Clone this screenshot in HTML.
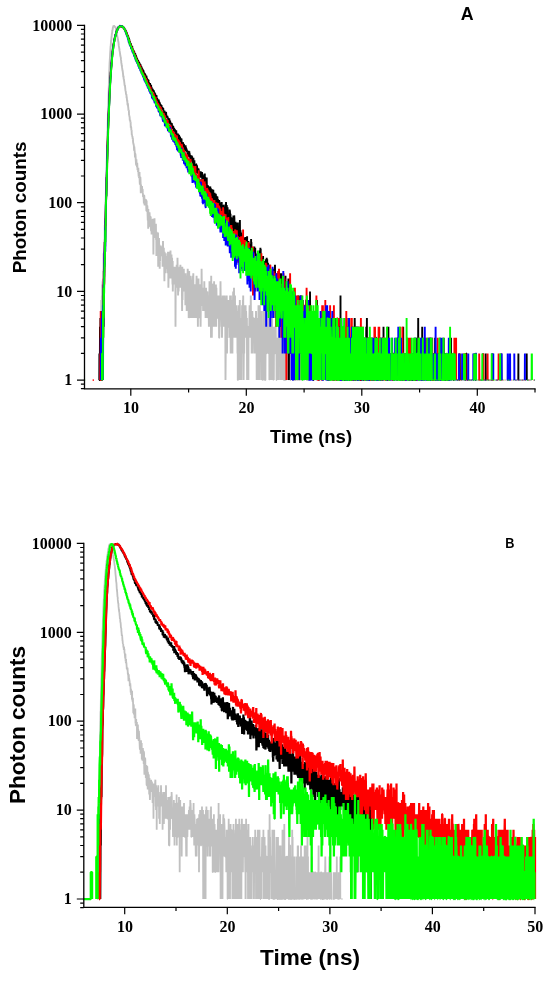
<!DOCTYPE html>
<html lang="en"><head><meta charset="utf-8"><title>Photon counts vs Time</title>
<style>html,body{margin:0;padding:0;background:#fff}svg{display:block}</style></head>
<body>
<svg width="550" height="981" viewBox="0 0 550 981">
<rect width="550" height="981" fill="#fff"/>
<g fill="none" stroke-width="19" stroke-linejoin="bevel" transform="scale(0.1)">
<path stroke="#c0c0c0" d="M995 3801h3M1000 3801h5l2-267h4l2-534l2 267h2l2-312l2 312l1-423l2 70l2-101l2 101l2-204h2l2 75l2-253l2 135l2-56l2-93l2-14l2-94l2-159l1 51l2-120l2-69l2-86l2-33l2-76l2-47l2-89l2-89l2-81l2-42l2-70l2-100l2-60l1-49l2-85l2-91l2-38l2-74l2-52l2-73l2-78l2-70l2-47l2-53l2-31l2-28l2-42l2-28l1-22l2-17l2-30l2-29l2-3l2-26l2-17l2-23l2-2l2-23l2-6l2-12l2-17l2-7l1-6l2 2l2-8l2 4l2 6l2-5l2 2h2l2 3l2 10l2-6l2 6l2-7l2 14l1 18l2 8l2 12l2 8l2 2l2 14l2 2l2 21h2l2 14l2 17l2 8l2 12l2 8l1 9l2 24l2 10l2 11l2 12l2 17l2 10l2 12l2 19l2 11l2 6l2 7l2 25l2 10l1 24l2 1l2 19l2 9l2 17l2 13l2 14l2 6l2 17l2 17l2 25l2-12l2 36l2-4l1 7l2 17l2 16l2 20l2 5l2 3l2 20l2 23l2 7l2 8l2 27l2-1l2-1l2 37l1-12l2 22l2 24l2-9l2 43l2 4l2-19l2 33l2 14l2 28l2-6l2 6l2 50l2-4l1 14l2-1l2 39l2-2l2-4l2 29l2-9l2 57l2-12l2 10l2 33l2-7l2 51l2-5l1 14l2 3l2 4l2 25l2-10l2 39l2 12l2 10l2 3l2 16l2 44l2-41l2 30l2 18l1 16l2 46l2-39l2 6l2 24l2 40l2 33l2 13l2-59l2 66l2-24l2 36l2-43l2 40l1 32l2-10l2 20l2 9l2-41l2 60l2 28l2-6l2 22l2-6l2-57l2 100l2 27l2-30l1-46l2 6l2 49l2 107l2-83l2 17l2 32l2 20l2-9l2-48l2 34l2 23l2-28l2 39l1 9l2 32l2-3l2-7l2 27l2 48l2-81h2l2 85l2 16l2-68l2 56l2-34l2 34h1l2-4l2-45l2 49l2 66l2-104l2 113l2-54l2-9l2 9l2 85l2 56l2-101l2 183l1-197l2 86l2 6h4l2 83l2-142l2 36l2 46l2-46l2 113l2-96l2-11l2 79l1 58l2 8l2-92l2 126l2-139l2 32l2-44l2 109l2-58l2 43l2-100l2 12l2 347l2-228l1-74l2-7l2 89l2-8l2-136l2 198l2-93l2 15l2-30l2 72l2-72l2-35l2 163l2-74l1 235l2-243l2 125l2 35l2-107l2 29l2-38l2-27l2-9l2 341l2-189l2 83l2-57l2-124l2 181l1-118l2 118l2 127l2-127l2 50l2-145l2 80l2-92l2 92l2-14l2-54l2 26l2-13l2 70l1-57h2l2-38l2 201l2-135l2-122l2 151l2-57l2 143l2-169l2 115l2 35l2 185l2-295l1 75l2 140l2-86h2l2 86l2-201l2 61l2 74l2-90l2 51l2-67l2 127l2-95l2 35l1 60h2l2 45l2-215l2 14l2 345l2-144l2-215l2 170l2 22l2 23l2-86l2 20l2 66l1-66l2 118l2-281l2 163l2 43l2 75l2-97l2-142l2 187l2-66l2-90l2 181l2 86l2-233l1 303l2-129l2-52h2l2 25l2 27h2l2-27l2-91l2 177l2-156l2 45l2-23l2 134l1 423l2-423l2-59l2 28l2-146l2 210l2-230l2 41l2-21l2 210l2-300l2 181l2 55l2 142l1-222l2 25l2 156l2-226l2 70l2-70l2 22l2-43l2 210l2-64l2 64l2-230l2 166l2-103l1 134l2-59l2-52l2-45l2 97l2 59l2 267l2-444l2 333l2-187l2 31l2-111l2 144l2-92l1 59l2-156l2 156l2-31l2 101l2-101l2 101l2-101l2-28l2 267l2-319l2 267l2-242l2 55l1 142l2-170l2 326l2-111l2-187l2 187l2-123l2-189l2 45l2 111l2 208l2-175l2 304l2-226l1-170l2-75l2 401l2 70l2-226l2-41l2-156l2 197l2 156l2-156l2 45l2-86l2 267l2-226l1-111l2 111l2-142l2-28l2-27l2 197l2 226l2-129l2-319l2 319l2-138l2 86l2-45l2 45l1-45l2 226l2-267l2-70l2 33l2 175h2l2 129l2-129l2-175l2-33l2-86l2 294l2 59l1 70l2-304l2 78l2 97l2 215l2-454l2 298l2-326l2 326l2 70l2-129h2l2-97l2-78h3l2-33l2 70l2 353l2-215l2-97l2 97h2l2-364l2 156l2 208l2-97l2 45l1-86l2-37l2 37l2 197l2-234l2 78l2-78l2 123l2 111l2-298l2 187l2 52l2-175l2 78l1-41l2 138l2 129l2-129l2-175l2 175l2-138l2 267l2-129l2-138l2 41l2-41l2 267l2-70l1-111l2 52l2-97l2 45l2 111l2 156l2-215l2 59l2-298l2 298h2l2 156l2-215l2 215l2-215l1-175l2 501l2-620l2 353l2-59l2 326l2-197l2-267l2 86l2-156h2l2 423l2-353l2 138l1-52l2 267l2-86l2-368l2 298l2-156l2 226l2 86l2-215l2 215l2-156h2l2-267l2 208l1 215l2-390l2 123l2 52l2-52h2l2 181l2-226l2 226h2l2-70l2 70l2-226l2 156h1l2 267h2l2-326l2-52h2l2 181l2-70l2-298l2 187l2-45l2 45l2 181l2 86l1-156l2 156l2 111l2-267l2 156l2-267l2 52l2-97l2 97l2-97l2 156h2l2-111l2 267l1-312l2 312l2-312l2 97l2 129h2l2 620l2-267l2-534l2 181l2 86l2-156l2-156l2 156l1 423l2-267l2 111h2l2-378l2 52l2 215l2-86l2 86h2l2-215l2 215l2-215l2-52l1 181l2 197l2-423l2 156l2 156l2 267l2-579l2 312l2 267l2-156l2 156l2-267l2-156l2-111l1 534l2-353l2 197l2-378l2-86l2 197l2-111l2 378l2-501l2 304l2 86l2-215l2 129l2-226l1 312h4l2 111l2-197l2-129l2 59l2 156l2 111l2-267l2 70h2l2 353l2-156l1 423h2l2-534l2-215l2 129l2-70l2 267l2-111l2 111l2 423l2-801l2 378l2-197l1 620M2405 3801v-534h2l2 267l2-267l1 534M2414 3801l1-534l2 111h2l2-326l2 482l2-423l2 423l2-534l2 378l1-423l2 423l2 423l2-267l2-267l2 267l2-267l2-215l2 59l2-59l2 215l2 111l2-326l2 215h1l2-156l2 70l2 86l2-86h2l2 620l2-423l2-111h4l2 267l1 267M2484 3801l1-534h1l2 111l2-111l2 111l2-197l2-129l2 326l2-326l2 129l2-129l2 129l2-226l2 312h2l1-86l2-70l2 423l2-267l2 267l2-423l2 70l2 197l2-197l2 197l2-111h2l2-86h2l1 197l2 156l2-267l2 267l2-156h4l2-197l2 197l2 156l2-423l2 156h2l2 267l1 267M2568 3801l1-423l2-197l2 353l2-156l2 156l2 267l2-267l2-156l2-326l1 749M2588 3801l1-534l2 267l2 267l2-423h1l2-326l2 129l2 86l2 267h2l2-353l2-70l2 267l2 423l2-534l2 267l1 267M2621 3801l1-267l1-156l2 423h1M2628 3801h1l2-690l1 690M2634 3801l1-423l2 156h4l1 267M2644 3801h1l2-534l2-156l1 267l2 423h2l2-423l2-111l2 267h6l2-156l2 156l2-423h2l2 267h1l2 156l2-156l2-197l2 353h2l2-267l2 111l2-111l1 534M2696 3801h2M2700 3801l1-534l2-86l1 197h2l1 423M2711 3801l1-534l2 267l2-267l2 534l2-620l2 620l2-423l1 423M2727 3801l1-267l2-267l1 267l2-156l2 423h1M2738 3801l1-267l2-156h2l2 156l2-267l2 267h2l2-156l2-111h2l1 111h2l2 156l2-156l2 423h5M2773 3801l1-267l2 267l2-267h2l2-156l2 423l1-267l2-267l2 267l2-156h2l2-326l2 215l2-86h2l2 86l1 534M2806 3801l1-423l2 423l2-534l1 534l2-423l2 156l2-267l2 267l1 267M2823 3801l1-423l2-111l1 534M2829 3801l1-267h2l2-353l2 620l2-267l1 267h6l2-267h6l2-353l2 620h2l2-423l2 423l2-267l1 267l2-620l2 353h2l2 267l2-620l1 620M2881 3801h2M2889 3801l1-423l1 423M2893 3801h0l2-534l2 534l2-267h2l2 267h2l2-534l2 111l2 423h1M2914 3801l1-267l2 267l2-423l1 156l1 267M2923 3801h1l2-267l2 267l2-423l2 423h2l2-423l2 423h1M2941 3801l1-267l2 267h7l2-267l2 267h2l2-267l2 267l2-267h2l1 267M2968 3801h1l2-267l2 267h4M2981 3801l1-267h4l2 267h1M2991 3801l1-423l2 156l2 267h1M2999 3801l1-423l1 423h3M3006 3801l1-423l2-111l2 267h2l2 267h3M3020 3801l1-267l2 267l2-267h3l1 267M3033 3801h2M3041 3801h1l2-267l2-156l2-111l2 534l2-423l2 423l1-423l2 156l1 267M3060 3801l1-267l2-156l2 156l2 267h6l2-620l2 620h6M3087 3801h3l2-423l1 423M3095 3801l1-534l2 534l2-423h2l2 423l2-267l1 267M3110 3801l1-267l2-267l2 111l1 423M3122 3801l1-267l2 267l2-423l2 423l2-267h2l2-156h2l1 423h5M3151 3801h2M3155 3801l1-267l2 267l2-267l1 267M3163 3801h1l1-267h2l2 267h3M3174 3801l1-423l2 156l2 267l2-267h4l1 267M3193 3801l1-267l2 267h1M3199 3801h1l2-267h2l1 267M3207 3801l1-267l1 267M3211 3801h3l2-267l1 267M3220 3801l1-423l2 423h1M3226 3801l1-267l1 267M3234 3801l1-423l2 156h2l2 267h1M3244 3801l1-267v267M3251 3801h3l2-423h2l2 156l2-156l1 423M3267 3801l1-267h2l2-156l1 423h5M3280 3801h1l2-267l1 267M3286 3801h2M3290 3801h1l2-267l1 267M3296 3801h2M3301 3801l1-423l2 423h2l2-534l1 534M3313 3801h2M3319 3801l1-267l2 267h3M3330 3801h1l2-423l2 423h1M3342 3801h2M3348 3801h2M3361 3801l1-267l2 267h3M3369 3801l1-267l1 267M3373 3801h1l2-267l1 267M3379 3801l1-267l1 267M3382 3801h2M3390 3801h2M3394 3801l1-267h2l1 267M3406 3801l1-267h1l1 267M3415 3801h1l2-267l1 267M3421 3801l1-267l2 267h1M3427 3801h4M3436 3801l1-267h2l1 267M3444 3801h2M3448 3801l1-423l2 423h5M3463 3801l1-267l2 267h1M3469 3801h2M3475 3801l1-267h2l1 267M3483 3801h2M3489 3801h1M3500 3801l1-423l1 423M3504 3801h2M3508 3801l1-267l2 267h1M3514 3801l1-267l1 267h7M3529 3801h2M3533 3801h2M3539 3801h1l2-423l1 423M3546 3801h2M3550 3801h6M3558 3801l1-267l2 267h2l2-267l1 267M3571 3801l1-267h2l2 267h1M3583 3801h4M3591 3801h2M3595 3801h2M3598 3801h2M3604 3801h2M3618 3801h2M3622 3801h3M3627 3801l1-267l1 267M3631 3801h2M3635 3801h3l2-267l2 267l2-423l2 156l2 267h1M3652 3801h2M3656 3801h12M3672 3801h2M3676 3801h2M3679 3801h2M3683 3801h2M3687 3801h5l2-267l1 267M3701 3801l1-267l2 267l2-267v267M3712 3801l1-267h4l1 267M3726 3801h6"/>
<path stroke="#000" d="M990 3801h3l1-267l1 267h3l2-534l1 267h2l1-353l2 197h1l1 156l1 267M1011 3801v-267l2 267h1l2-534l1 534l2-534l1 534l1-690l2 423l1-156l2-197l1 620l2-267l1-423l2 267l1-267l1-156l2-111l1 423l2-423l1-59l2-27l1-130l2 39l1-39l1-207l2 57l1-46l2 34l1-164l2-120l1 11l2-121l1-41l1-67l2-7l1 7l2-110l1-53l2-63l1-31l2-86l1-44l1-21l2-100l1-33l2-29l1-78l2-22l1-56l1-51l2-15l1-37l2-32l1-37l2-31l1-41l2-33l1-17l1-13l2-58l1-21l2-26l1-28l2-27h1l2-22l1-28l1-6l2-37l1-17l2-12l1-24l2-8l1-27l2-8l1-18l1-23l2-12l1-11l2-15l1-17l2 3l1-12l2-21l1-2l1-14l2-1l1-13l2-7l1-13l2-10h1l2-10l1-6l1-5l2 5l1-20l2 8l1-22l2-2l1-1l2-4l1-4l1-11l2 1l1-7l2-6l1 1l2-12l1-3l2 10l1-12l1-3l2 1l1-6l2-7l1-3l2 5l1-7l2-3l1-1l1-3l2-1l1 11l2-17l1 9l2-4l1-2l2-6l1-3h1l2 7l1 4l2-9l1 9l2-4l1 4l2-8l1-5l1 14l2-1l1-11l2 11l1-4l2 2l1-4h2l1 6l1-4l2 5l1-1l2 2l1 5l2-5l1 2h2l1 10l1-3l2-4l1 15l2 2l1-2l2 7l1-5l2 6l1 3h1l2-3l1 8h2l1 4l2 5l1 9l2-8l1 17l1 1l2-9l1 8l2 3l1 10l2 4l1 5l2-6l1 8h3l1 8l2 5l1 9l2-3l1 3l2 4l1 3l1 4l2 10l1 3l2 8l1 3l2 3l1 3l2 8l1 5l1-1l2 2l1-3l2 19l1-3l2 6h1l1 13l2 2l1-3l2 3l1 9l2-15l1 21l2 1l1 11l1-7l2 13l1-6l2 4l1 8l2 7l1-5l2 7l1-2l1-2l2 8l1 1l2 13l1 3l2 3l1-3l2 16l1-18l1 16l2 4l1 4l2-9l1 10l2 1l1 2l2 15l1-7l1 12l2-1l1 5l2-3l1 9l2 3l1 4l2 4l1-1l1 7l2 9l1-10l2 4l1 6l2 1l1 10l2-3l1-4l1 10l2 7l1-10l2 18l1-5l2 1l1 1l2 2l1 19l1-21l2 19l1-3l2 7l1 12l2 3l1-12l2 2l1 7l1 6h2l1 5l2 3l1-4h2l1 41l2-18h1l1-14l2 22l1-16l2 10l1 11l2 1l1 6h3l1-4l2 20l1-17l2 16l1-3l2-2l1 4l2 10l1-1l1 9l2-6l1 10l2 1l1-12l2 7l1 23h2l1-10l1 18l2-9l1 13l2-4l1 3l2-3l1 10l2-5l1 1l1 10l2-14l1 22l2 4l1 8l2-1l1 1l2 11l1 3l1-4l2 2l1-13l2 23l1-12l2 6l1 8l2 4l1 9l1-15l2-3l1 18l2 16l1-11l2 9l1 15l2-4l1-2l1 4l2-9l1 15l2 9l1 1l2-13l1 5l2-3l1 16l1-9l2-1l1 3l2 13l1-2h2l1 11l1-3l2 4l1 13l2 1l1-13l2 14l1-2l2 20l1-11l1 18l2-6l1 4l2-11l1-7l2 15l1 29l2 3l1-18l1 16l2-1l1-5l2 3l1 17l2-7l1-1l2 7l1 8l1-22l2 14l1-14l2 26l1 12l2-19l1 10l2 13l1-1l1-9l2 6l1 12l2 12l1-4l2-8l1 9h2l1-7l1 2l2 4l1 20l2-23l1 27l2 1l1 8l2-12l1 7l1 8l2-13h1l2 15l1 4h2l1-15l2 24l1 14l1 6l2 1l1-7l2-3l1-6l2-3l1 4l2 8l1 14l1-13l2 15l1-12l2 36l1-11l2-29l1 19l2 26l1-40l1 24h2l1 30l2-7l1 3l2-3l1-6l2 6l1-12l1 27l2-5l1-8l2 14l1-7l2 36l1-21l2 10h1l1-13l2 8l1 29l2-46l1 15l2 24l1-14l2 32l1-9l1-25l2 21l1 3h2l1 15l2-17l1 20l2-18l1 4l1-3l2 49l1-45l2 6l1 23l2 17l1-11l2-2l1-9l1-4l2 38l1-20l2-13l1 16h2l1-1l2 20l1 16l1-26l2 13l1 19l2-29l1 13l2 16l1-23l2 15l1 15l1-8l2 22l1-26l2 31l1-36l2 17l1-20l2 26l1-2l1 14l2-1l1-3l2 20l1-8l2 6l1-7l1-8l2 13l1-19l2 32h1l2-18l1 55l2-49l1-2l1 12l2-18l1 55l2-23l1-16l2 57l1-19l2-9l1-24l1 41l2 13l1-24l2-6l1 6l2 21l1-36l2 16l1 28l1-42l2 51l1-10l2 31l1-13l2-14l1-3l2 32l1-33l1 1l2 11l1-8l2 8l1 29l2-22l1 20l2-24l1 5l1 46l2-4l1-24l2-5l1 37l2-37l1 40l2 6l1-6l1-10l2-37l1 61l2-11l1-28l2 34l1-26l2 25l1-4l1 3l2-11l1 25l2-15l1 21l2 1l1 11l2-23l1 15h1l2 35l1-24l2-34l1 21l2 29l1-27l2 15l1 26l1-59l2 33l1-2l2-7l1 13l2 8l1 15l2 23l1-32l1 27l2 25l1-39l2 9l1-19l2 16l1-28l2 30l1 5l1 10l2-37l1 13l2 37l1 4l2 11l1-14l2-14l1 42l1-2l2-62l1 39l2 42l1 17l2-43l1-25l2 38l1-41l1 30l2 4l1 38l2 19l1-50l2 25l1 14l2-19l1-10l1 50l2-24l1-42l2 3l1 85l2-2l1-63l2 33l1-41l1 16l2 15l1 37l2-37l1 53l2-56l1 37l2-27h1l1-8l2 11l1 5l2 66l1-46l2 4l1 50l2-52l1-9l1 21l2 19l1-38l2 49l1-44l2 54l1-8l1-53l2 63l1-29l2 29l1-29l2-9l1 19l2-28l1 13l1-22l2 60l1 36l2-78l1 52l2-37l1 21l2-21l1 25l1-4l2-2l1 65l2-77l1 41l2 22l1-4l2-55l1 31l1-19l2-40l1 103l2-29l1-40l2 53l1-16l2 42l1 30l1-42l2-14l1-35l2 81l1-55l2-40l1 56l2 93l1-69l1 33l2 11l1-32l2 8l1 86l2-106l1 20l2 8l1 8l1 25l2 5l1-54l2 57l1 6l2 16l1-58l2-13l1 117l1-99h2l1 40l2-68l1 54l2 49l1-13l2-70l1 36l1 25l2-4l1-38l2 32l1-23l2-3l1 85l2-27l1-75l1 59l2-10l1-6l2-20l1 42l2-34l1-25l2 137l1-26l1-52l2 27l1 28l2-83l1 51l2-45l1-6l2 51l1-6l1-23l2 73l1-44l2-3l1 14l2-53l1 26l2 83l1-90l1 44l2-3l1 11l2 15l1-60l2 48l1-11l2-37l1 48l1 39l2-46l1-14l2 18l1 46l2 5l1-59l2 15l1-4h1l2 52l1-63l2 46l1-31l2 52l1-13l2 9l1-37l1 16l2 25l1 31h2l1 29l2-60l1 65l2-34l1-18l1-30l2-31l1 48l2 17l1 19l2-9l1 4l2-9l1 38l1-19l2-58l1 17l2 17l1 5l2 5l1 18l1-66l2 21l1 4l2 46l1-9l2-19l1 53l2 33l1-43l1-61l2 93l1-16l2-6l1 75l2-95l1-103l2 70l1 128l1-90l2-43l1-34l2 30l1 101l2 5l1-69l2 69l1-115l1 159l2-26l1-18l2-11l1 23l2-12l1 25h2l1-13l1 73l2-28l1-95l2 38l1-92l2 129l1-115l2 34l1 27l1 23l2-55l1 164l2-132l1 48l2-13l1 26l2-55l1 75l1-39l2-7l1 26l2-19l1 25l2 42l1-21l2-65l1-17l1 111l2-15l1 108l2-226l1 148l2-71h1l2-13l1 6l1-70l2 28l1 90l2 15l1-22l2 22l1 15l2-51l1 129l1-62l2-100l1 134l2-58l1-63l2 79l1 90l2-74h1l1-8l2 8l1-75l2 170l1-69l2-58l1 77l2-147l1 138l1 18l2-70h1l2 90h1l2-90l1 111l2-163l1 122l1-86l2 68l1 129l2-292l1 119l2 72l1-19l2-69l1 69l1 29l2 32l1-106l2 9l1 143l2-116l1 9l2 39h1l1 11l2 33h1l2 174l1-218l2-58l1-8l2 110l1 78l1-142h2l1-10l2 111l1 27l2-128l1 31l2-41l1 152l1-142l2 114l1-104l2 228l1-257l2 175l1-55l2-111l1 213l1-150l2-33l1 94l2-72l1 72l2-72l1 161l1-127l2-104l1 129l2 41l1-66l2 66l1-28l2-61l1 134l1-31l2-136l1 68h2l1 54l2-100l1 34l2 25l1-13l1 150l2-96l1-89l2 150l1-102l2 13l1 57l2 32l1-150l1 245l2-111l1-187l2 142l1-111l2 156l1 51h2l1-150l1 99l2-99l1 40l2 59l1 111l2 45l1-86l2-70l1 51l1-82l2-28l1 129l2-19l1-82l2-42l1-38l2 95l1 67l1-124l2 163l1 21l2-210l1 40l2 93l1 56l2-39l1 19h1l2-36l1-50l2-15l1 82l2-82l1 239l2-239l1 15l1 172l2-140l1-61l2 115l1 197l2-216l1 82l2-133l1 208l1-174l2-34l1 181l2-70l1-156l2 178l1-99l2-107l1 124l1-96l2 135l1-106l2-83l1 335l2-322l1 242h2l1 144l1-210l2-39l1-51l2 34h1l2 99l1-63l2-36l1-18l1 54l2-36l1-34l2 208l1-224l2 283l1-177l2 210l1-249l1 130l2-48l1-63h2l1 20l2 146l1-202l2 99l1 48h1l2 86l1-216l2 185l1-28l2-157l1-35l2 407l1-242l1-147l2 56l1-90l2 378l1-344l2-18l1 220l2 31l1-111h1l2 80l1-185l2 82h1l2-22l1 226l2 86l1-123l1-92l2-97l1 226l2-181l1-45l2-41l1 63l1 342l2-208l1-134h2l1 75l2 129l1-101l2-28l1 129l1-101l2 31l1 208l2-97l1-197l2 55l1-28l2 28l1-28l1-27l2 86l1-156l2 189l1-119l2 156l1-70h2l1-31l1-55l2 294l1-208l2 70l1-70l2-156l1 22l2-63l1 353l1-86l2-156l1 423l2-396l1 267l2-239h1l2 101l1 197l1-111l2-86l1-156l2 242l1-156l2 111l1 226l2-337l1 33l1 123l2-86l1 138l2-138l1-181h2l1 181h2l1-37l1 234l2 156h1l2-534l1 181l2 138h1l2-97l1 156l1-197l2 353l1-267h2l1 52l2-175l1-144l2 378l1-111l1-156l2 156l1-156l2 156l1 111l2-197l1 138l2-208l1-31l1 565l2-620l1 509l2-267h1l2-86l1 197l2-298l1 454l1-215l2-239l1 142l2 97l1-97l2 45l1 52l2 129l1-423l1 242h2l1 267l2-353l1 138l2 59h3l1-111l1 267l2-215l1 326l2-378l1 111h3l2-156h1l1 226l2-396l1 215l2 378v423M2889 3801l1-534l1-267h2l1-215l1 170l2 45l1-123l2 657l1-482l2 59l1-156l2 156l1-59h1l2-52l1 378l2-267l1-156l2 312l1 111l2-267l1 267l1-197l2-70h3l1 423l2-156l1-267h1l2 70h1l2-129h1l2-52l1-45l2-41l1 197l1 156l2-215h1l2-52l1 181h3l2-70l1 156l1-215l2 129l1 197h2l1-378h2l1 181l2 197l1-326h1l2 326l1-111l2-86l1-129l2 215l1-156l2 70l1-70l1-156l2 312h3l1-156l2 267h1l2-111l1 111l1-111l2-86l1 197l2-111h1l2-312l1 226l2-70l1 156l1 111h5l1-326l2 215h1l2 111l1-267l1 156l2 267l1-482l2-52l1 111l2 267l1-197l2 197l1-197l1 86l2 267l1-156l2-267l1 70h3l2 353l1-156l1-111l2-156l1 70l2 353v267M3055 3801l1-749l1 326l2-267l1 70l1-70l2-111h1l2 181l1-129l2 482l1-267l2 111l1-267l1 423h2l1-423l2 423l1 267l2-749h3l1 129l1-70l2 423l1-156l2-378l1 181l2 197h3l1 156l1-620l2 267l1-129l2 482h3l1-267l2 111l1-111h1l2 111h1l2-111h1l2-86l1 353l2 267l1-620l1-70l2 70l1 620l2-423h1l2 423h1l2-620l1-70l1 156l2 267l1-156h3l2-197h1l2 197l1 423l1-267l2-156l1 156h2l1-423l2 156h1l1-156l2 156l1 111h3l2-378l1 534l2-267l1-86l1 620M3176 3801l1-534l1 111l2-111l1-86l1 620M3183 3801l1-534l1 534M3186 3801l1-534l1 534h2l1-423l2-111l1 111l2-111h1l2 111l1 423l1-267l2-156l1-111l2 267l1-353l2 197l1 156h2l1-353l1 197h2l1 156h2l1-267h5l1 111l1 423M3228 3801h1l1-423l2-197l1 86l2 267l1 267l2-267l1-267l1 534l2-267l1-156l2 423l1-267h2v267M3251 3801l1-534l1 534l2-423l1 423l2-267h1l2 267l1-534l2 267h1l1-267h2l1 267l2-156l1-111l2 534l1-534h2l1 267l1 267h2l1-267l2-156v423M3286 3801l1-423h3l1-111h1l2 267l1-156l1 423M3297 3801h1l2-690l1 267l2-197v620M3305 3801h0l2-620l1 197l2 423l1-267h3l2 267h0M3318 3801h0l2-423h1l2 423h0M3325 3801l1-267l1-353l2 620l1-690l1 156l2 267l1-353l2 620l1-267l2 267l1-267l2-267l1 111l1 156l2-156h3v423M3351 3801l1-423l1 423h1M3355 3801l1-267l1 267M3358 3801l1-267l1-353l2 620l1-534l2 267h1l2 267l1-267l1 267M3371 3801l1-534l1 111l2-111v534M3377 3801l1-423l1 156l2-267h1l1-86l2 620l1-267l2-267h1l2 534h1l1-423l2 423l1-267l2-156l1 423l2-534l1 267l2 267l1-846l1 846M3407 3801l1-534l1 111h3l2 156v267M3416 3801l1-267h4l1-156h3l2 156l1-156l2 156l1 267l1-423h3l2 156h1l2-156l1-111l2 267l1 267h1l2-423l1 423l2-267l1 267M3452 3801h1l1-267l2 267h1l1-267l2 267l1-267l2 267h1M3465 3801l1-620l1 620l2-534l1 534h1l2-423l1 156l2 267l1-267l2 267h1l2-534l1 534h1M3485 3801h1l1-267l1 267M3490 3801v-423h2l1 423l2-267h1l1 267h3M3501 3801l1-267h1l2 267h2M3511 3801h8l2-534l1 534l1-267h3l1 267M3528 3801l1-423l1 423M3531 3801l1-423l2 423h0M3537 3801l1-267l1 267M3540 3801h3M3544 3801l1-267l2-353l1 86l1 534h3l2-267l1 267h2l1-267l2-267l1 534h1M3563 3801l1-534l1 267h3l2-156h1l2-111l1 267l1-267l2 534h2M3582 3801h4M3589 3801l1-267l1 267M3592 3801h1l1-267l2 267h3l1-267l1 267M3602 3801h1l1-267l2 267h1l2-423v423M3611 3801h1l1-267l1 267M3615 3801l1-423l1 423h1M3622 3801l1-267l1 267M3627 3801v-267l1 267M3630 3801v-423l2 423h1l2-267l1 267h1l2-267l1 267h1M3643 3801h0l2-267h1l2-156l1 156l1 267M3651 3801l1-267l1 267h1M3656 3801v-267l2 267l1-423h3l1-111l2 267h1l2-156l1-197l1 620M3676 3801h0l2-423l1 423M3680 3801h2M3683 3801l1-267l1 267h2M3689 3801h2l1-267l2-156l1 156l1 267M3697 3801l1-267l1 267M3700 3801l1-267l1 267M3703 3801h2l2-267l1-156l1 423M3710 3801h3l1-267l1 267h2l1-423l2 156l1 267h1M3723 3801l1-267l1 267M3726 3801h1l1-267l1 267M3731 3801v-267l2 267h2M3736 3801h2M3741 3801h3l2-267l1 267h2M3751 3801h1M3754 3801h1M3758 3801h1l1-423h2v423M3764 3801l1-267v267M3771 3801h1l1-267l2 267h0M3777 3801h1M3783 3801h2M3787 3801h2l2-423v423M3793 3801h1M3798 3801h1l2-423v423M3803 3801h1l1-267l1 267M3807 3801l1-267h1l1 267M3813 3801l1-267v267M3816 3801l1-423l1 423h1M3820 3801h1l1-423l1 423M3824 3801h2M3827 3801l1-267l1 267M3835 3801v-534l2 534h0M3840 3801l1-267l2 267h0M3848 3801v-267l2 267l1-267l1 267M3853 3801h3M3862 3801h1M3865 3801l1-267v267M3868 3801v-267l2 267h2M3874 3801h0l2-534l1 534h4M3882 3801l1-267l1-267l2 534l1-267l1 267M3889 3801h1l2-267h1l1 267M3895 3801l1-267h1l2 267h1M3902 3801h3M3907 3801v-267l1 267M3911 3801l1-267l1 267M3914 3801l1-267v267M3930 3801h1M3934 3801h1l1-267l1 267M3940 3801h3M3946 3801h4M3960 3801l1-267h1l1 267M3965 3801h1M3972 3801v-267h2l1 267l2-423l1 423h1M3980 3801h2M3986 3801l1-267l1 267l2-267l1 267l2-267v267M3995 3801l1-267l1 267h5M4006 3801h3M4011 3801h3M4018 3801h1M4022 3801h2M4025 3801h2l2-267h1l2-267l1 267l1 267M4037 3801v-267l2 267h2M4042 3801h3M4048 3801h2M4054 3801h2l2-267l1 267h1M4063 3801h1M4067 3801h1M4070 3801h1M4073 3801l1-267v267M4076 3801h1M4080 3801h3M4087 3801l1-267l1 267h3M4094 3801h1l2-267l1 267h1M4100 3801h1l1-267l1 267M4105 3801h1M4109 3801l1-267v267M4113 3801h5M4119 3801h2l2-267v267M4126 3801l1-267l1 267h1M4131 3801h2l1-267l1 267M4136 3801h1l1-267h2l1 267M4142 3801h1l1-267l2-156v423M4149 3801l1-267l1 267h7M4159 3801l1-423l2 423h5M4168 3801l1-267h1l2 267h0M4180 3801h0l2-620l1 620l2-267v267M4188 3801l1-267l1 267M4196 3801h0l2-267v267M4200 3801h1M4204 3801l1-267l1 267M4213 3801h1l1-267h1l1 267M4221 3801l1-534l1 534M4227 3801l1-423l1 423h3M4237 3801h2M4242 3801h3M4249 3801h1M4256 3801h2M4260 3801h2M4265 3801l1-267v267M4269 3801h3M4275 3801l1-267l1 267h4M4282 3801h3M4286 3801h2M4295 3801h2M4298 3801h2l2-423v423M4304 3801h1M4311 3801h1M4315 3801h1l1-267h2l1 267M4321 3801h3M4325 3801l1-267h2l1 267h1l2-267l1 267h1M4338 3801l1-267l2 267h2M4344 3801l1-267l1 267M4350 3801l1-423l1 156l1 267M4354 3801h1l1-267l1 267M4359 3801h3M4363 3801h3M4369 3801h3M4375 3801h1M4379 3801l1-267h1l1 267M4383 3801h3M4390 3801l1-267l2 267h0M4396 3801h2l2-267l1 267h1M4406 3801h3M4412 3801h2M4418 3801h3M4425 3801h2M4429 3801h2M4434 3801h0l2-267l1-156l1 423M4442 3801h1l2-267v267M4447 3801h1M4451 3801h2l2-267v267M4457 3801h1M4463 3801h1M4465 3801h2M4470 3801h3M4480 3801l1-267l1 267h2l1-267l1 267M4487 3801h3M4496 3801h1l1-267l1 267M4502 3801v-267l1 267M4509 3801l1-423v423M4512 3801h1M4517 3801l1-267l1 267M4525 3801h1M4532 3801h1l1-267l1 267M4539 3801l1-267l1 267h1M4549 3801h3M4561 3801h1M4567 3801h1M4571 3801h3M4578 3801h2M4582 3801h3M4587 3801h1M4597 3801l1-267l1 267h1M4603 3801h1M4614 3801h2M4623 3801h1M4633 3801h1M4643 3801h3M4653 3801h1l1-267l2 267h1M4663 3801l1-267h1l1 267M4668 3801h1M4670 3801h2M4673 3801h2M4676 3801h2M4683 3801h2M4689 3801h2M4695 3801h1M4705 3801h3M4711 3801h3M4722 3801h2M4733 3801h4M4743 3801h1M4746 3801v-267l1 267M4750 3801h1M4756 3801v-267l2 267h1M4763 3801h1M4766 3801h1M4776 3801h1M4780 3801h2M4789 3801h1M4795 3801h1M4799 3801h1M4806 3801h2M4809 3801h2M4818 3801h3M4824 3801h1M4829 3801l1-267l1 267M4834 3801h3M4839 3801h2M4857 3801v-267l2 267h1M4865 3801h2M4880 3801h1M4883 3801h3M4894 3801h2M4903 3801h1M4909 3801h1M4914 3801h5M4923 3801h1l1-267l1 267M4961 3801h3M4965 3801h1M4990 3801h2M5000 3801h1M5005 3801h2M5013 3801v-267l2 267h1M5024 3801h2M5033 3801h1M5056 3801h1M5073 3801h5M5104 3801h1M5111 3801h1M5130 3801h1M5137 3801h1M5154 3801h2M5174 3801h2M5183 3801l1-267v267M5187 3801h2M5192 3801h3M5213 3801h2M5223 3801h2M5231 3801h1M5238 3801h1M5241 3801h1M5249 3801h2M5252 3801h2M5267 3801v-267l1 267M5270 3801h3M5299 3801h1M5312 3801h1M5332 3801h1M5340 3801h2M5345 3801h1"/>
<path stroke="#f00" d="M1000 3801h1l2-267l1 267h2l1-690l1 267l2 423l1-267l2 267l1-267l1 267M1016 3801h1l2-267h1l1 267h2l1-267l2-267l1 267l2-353l1 353l2-267l1-156l1 156l2-482l1 215l2-312l1 189l2-64l1 31l2-233l1-18l1-75l2-128l1 20l2-58l1-108h2l1 14l2-135l1-24l1-79l2-53l1-58l2-19l1-118l2 29l1-67l2-50l1-75l1-32l2-68l1-50l2-50l1-42l2-69l1-25l1-15l2-58l1-36l2-44l1-15l2-44l1-42l2-30l1-16l1-43l2-17l1-33l2-29l1-43l2-24l1-22l2-12l1-14l1-23l2-9l1-29l2-23l1-6l2-25l1-9l2-17l1-21l1-17l2-9l1-12l2-22l1-7l2-27l1 11l2-21l1-12l1-20l2 4l1-10l2-7l1-7l2-3l1-6l2-17l1 3l1-18l2-6l1 2l2-15l1-2l2 2l1-14l2-6l1-1l1-5l2-4l1-3l2-12l1 1l2-12l1 7l2-9l1-3l1-6l2-1l1 7l2-5l1-7l2-3l1 7l2-17l1 4l1-6l2 2l1-1l2-4l1-6l2 14l1 1l2-15l1 2l1-3l2 5l1 8l2-15l1 8l2-7l1 13l2-13l1 6l1-1l2 7l1-15l2 9l1 4l2-2l1-7l2 7l1-1l1 7l2 3l1-2l2-3l1 1l2-3l1 8l2 3l1 6l1-10l2 9l1-4l2 7l1 8l2 1l1 1h2l1 9l1-2l2-1l1 7l2-3l1 17l2-9l1 5l2 3l1 2l1 7l2 6l1 7l2-2l1 9l2-4l1 3l2 7l1-1l1 8l2 3l1 7l2 9l1 8h2l1 2l2 4l1 10l1-4l2 7l1-1l2 12l1 7l2 11l1-3l2 3h1l1 2l2 5l1 12l2-7l1 3l2 10l1 1l1 13h2l1-5h2l1 7l2 6l1 3l2-1l1 17l1-10l2 3l1 22l2-8l1 8l2-9l1 1l2 9l1-4l1 19l2-1l1 7h2l1-3l2 13l1-2l2 6l1 14l1-18l2 21l1-4l2 3l1 1l2 4l1 16l2-10l1 8h1l2 9l1-4l2 14l1 3l2-1l1 4l2-3l1 1l1 6l2 8l1 3l2 9l1-4l2 13l1-14l2 10l1 12l1-15l2 15l1-7l2 24l1-27l2 13h3l1 21l1-1l2-5h1l2 21h1l2 5l1-2h2l1-8l1 16l2-2l1 20l2-2l1-2h2l1 7l2 11l1-13l1 7l2 1l1 9h2l1 18l2 8l1-16l2 1l1-1h1l2 10l1 14h2l1-3l2 3l1 7l2 2l1 1h1l2-8l1 18l2-14l1 22h2l1-3l2-2l1 7l1 9l2 1l1-2l2 16l1 9l2 1l1-3l2 2l1 2l1 4l2-10l1 6l2 17l1-6l2-6l1 12l2-6l1 10l1 3l2 24l1-2l2-16l1-4l2 18l1-19l2 38l1-11h1l2 18l1 12l2-12l1-8l2 10l1-4l2 8l1-1l1 7l2 8l1 1l2-12l1 10h2l1 12l2 12l1-2l1-16l2 25l1-19l2 8l1 22l2-15l1 7l1 5l2-6l1 8l2 13l1 1l2 1l1 3l2-21l1 11l1 31l2-18l1 13l2-11l1 5l2 7l1 10l2 9l1 12l1-18l2-2l1 17l2 22l1-1l2-25l1 14l2-13l1 23l1-5l2-9l1 26l2 18l1-25h2l1-3l2 4l1 10l1 12l2-11l1 5l2 20l1-8l2-24l1 32l2-25l1 8l1 22l2 27l1-12l2-12h1l2 14l1-2l2-1l1 15l1 15l2-35l1 18l2 11l1-1l2 17l1-17l2 15l1-4l1-4l2 4l1-19l2 61l1-25l2-1l1 14l2 13l1-24l1-19l2 50l1-2l2-3l1-10l2 26l1-19l2 7l1-4l1-6l2 12l1 29l2-25l1 4l2 17l1-3l2 35l1-60l1 27l2-27l1 45l2-18l1 28l2-27l1 13l2 22l1-24l1-1l2 37l1-5l2 12l1-3l2-15l1-12l2 19l1 9l1-8l2-8l1 11l2 14l1-19l2-14l1 37l2-11l1 2l1 23l2-13l1 29l2-3l1-17l2 4l1 14l2-14l1 39l1-5l2-28l1 21l2 7h1l2-10l1-12l2 39l1-3l1-16l2-12l1 42l2-14l1 10l2 3l1 10l2-1l1-37l1 52l2-38l1 25h2l1 1l2 9l1-35l2 35l1-26l1 52l2-61l1 31l2 15l1 25l2-22l1 8l1 29l2-9l1-32l2-7l1 45l2-29l1 21l2-3l1 33l1-55l2 27l1 11l2-19l1 34l2-6l1-29l2 3l1 42l1-15l2 36l1 4l2 1l1-23l2-18l1 26l2 23l1-49l1 29l2-43l1 49l2-40l1 72l2-15l1-37l2 57l1-2l1-4l2-40l1 20l2 40l1-11l2-5l1-24l2 39l1 8l1-42l2 29l1-19l2 9l1 68l2-54l1 1l2-12l1 24l1-11l2 24l1-7l2-20l1 24l2 18l1-1l2-6l1 11l1-12l2 13l1 25l2-61l1 25l2-2l1 14l2 5l1 16l1-7l2 3l1-8l2 10l1 90l2-105l1 8l2 16l1 40l1-57l2 10l1 44l2-59l1 72l2-25l1 51l2-71l1 29l1-56l2 73l1-13l2 2l1 16l2 15l1-9l2-30l1 21l1-29l2 46l1 8l2-16l1-18l2 18l1-2l2 10l1 24l1-37l2-7l1 39l2 19l1-7l2 68l1-85l2-14l1-2l1 59l2-68l1 66l2-46l1 76l2-66l1-41l2 77l1 28l1-30l2 19l1-17l2 30l1-2l2 31l1-50l2 35l1-4l1 36h2l1-28l2-8l1 12l2-37l1 63l2-44l1-17l1 17l2 20l1-88l2 112l1-30l2 35l1 27l2-34h1l1-24l2 47l1-25l2-17l1 39l2 17l1 5l1-53l2 13l1-7l2 12l1 99l2-108l1 29l2-16l1 33l1 13l2-27l1 7l2-3l1 60l2-57l1-59l2 89l1 3l1-47l2 7l1 96l2-6l1 32l2-32l1-56l2-48l1 92l1-106l2 52l1-17l2 22l1-34l2 111h1l2-22l1-20l1 12l2 30l1-39l2 26l1-32l2-11l1 88l2-39l1 26l1-88l2 39l1 2l2 25l1-50l2 34l1 58l2-52l1 35l1-64l2 23l1 41l2 21l1 10h2l1-81l2 25l1-13l1 80l2-3l1 63l2-140l1 59l2-24l1-10l2 37l1 91l1-46l2-48l1 56l2-60h1l2-3l1 25l2 63l1-48l1-26l2 22l1 4l2 3l1 86l2-66l1 8l2-16l1 8l1 43h2l1 14l2-99l1 11l2-15l1 158l2-112l1 4h1l2 26l1 46l2-84l1 56l2-60l1 16h2l1 108l1-135l2 44l1 13l2-4l1 36l2-32l1 23l2-14l1 14l1 45l2-59l1-59l2 73l1 19l2 31l1-16l2-10l1 59l1-132l2 26l1 32l2-14l1-31l2 65l1-15l2-19l1 44l1 6l2-64l1 108l2 6l1-23l2 61l1-72h2l1 17l1 5l2 64l1-86l2-56l1 90l2-6l1-55l2 44l1 5l1-69l2 52l1-98l2 41l1 69l2 30l1-36l1 55l2-13l1 100l2-180l1 149l2-111l1 17l2 31l1-48l1 42l2-36l1 90l2-129l1 136l2-48l1-55l2 126l1-97l1 121l2-139l1-5l2 69l1-39h2l1-7l2-18l1 85l1-21l2 51l1 130l2-160l1-102l2 67l1 206l2-171l1 15l1 103l2-96h3l1-36l2 86l1-26l2 17l1-56l1-28l2 170l1-119l2 60l1-111l2 36l1 48l2-84l1 101l1 19l2-69l1-23l2 56l1 86h2l1-103l2 8l1 18l1-9l2 119l1-33l2 22l1-133l2 80l1-46l2 56l1 54l1-136l2 125l1-72l2 161l1-54l2-24l1-119l2-41l1 77l1 72l2-72l1-45l2 36l1 9l2 83h1l2-22l1-22l1-108l2 60l1 38l2 43l1 48l2 70l1 16l2-59l1-156l1 266l2-248l1 111l2-13l1-88l2 53l1-72l2 107l1-24l1 92l2 31l1-206l2 83l1 174l2-67l1 50l2-168l1 89l1-14l2 28l1 47l2-231l1 231l2-127l1 52l2 93l1-133l1-35l2 134h3l1-45l2 61l1-102l2-197l1 373l1-39l2-96l1-28l2 28l1-41l2 86l1-16l2-83l1 40l1 28l2-42l1-104l2 177l1-73l2 57l1 67l2-218l1 122l1-14l2-75l1 75h2l1 93l2-107l1 57l1 50l2-93l1 75l2-61l1-100l2 86l1 59l2-123l1 193l1-70l2-123l1 279l2-312l1 70l2 86l1-99l2-12l1 267l1-229l2 73l1 181l2-212l1 31l2-45l1 178l2-99l1 99l1-82l2 60l1-60l2 60l1-60l2 60l1-21l2-149l1 129l1 86l2-187l1 15h2l1-95l2 111l1 378l2-344l1-34l1 70l2-86l1-15l2 142l1-156l2 79l1 17h2l1 105l1-105l2 39l1-74l2 321l1-226l2-41l1 63l2-82l1 39h1l2 21l1 45l2-45l1 45l2-86l1-54h2l1 95l1-21h3l2 66l1-105l2 60l1 97l2-208l1 51l1 130l2-91l1-121l2 239l1-138l2 197l1-177l2 210l1-210l1 21h2l1-60l2 39l1 91l2 27l1-118l2-74l1 251l1-197l2-115l1 115l2 138l1 92l2-266l1 147l2 86l1-177l1 91l2-111l1 230l2-167l1 103l2-28h3l1 215l1-215l2-27l1 86l2-31l1 64l2-119l1-91l2 91l1 55l1-146l2 21l1 226l2-37l1-119l2-130l1 185l2 187l1-267l1 52l2-52l1-66l2 21l1-41l2 197l1-156l2 226l1-70l1 156l2-290l1 204l2-101l1-80l2 25l1 156l2-181l1 52l1 215l2-242l1 119l2-119l1-70l2 189l1-64l1 64l2 234l1-464l2 86l1-45l2 70l1 197l2-197l1 242l1-187l2-28l1 28l2 31l1 33l2-64l1-55l2 27l1 215l1-123l2 78l1 45l2-123h1l2-64l1-103l2 48l1 353l1-59l2-97l1-170h2l1 129h2l1 86l2-267l1 267l1-242l2 27l1-52l2 144l1 37h2l1 353l2-312l1 312l1-534l2 319l1-52l2-86l1 197l2-111l1-86h2l1 41l1-41l2-156l1-48l2 167h1l2 123l1-123l2 175l1-364l1 493l2-181l1-123l2-64l1 142l2-78l1 175l2-175l1 304l1-226h2l1 156l2-111l1-86h2l1-70l2 534l1-197l1-226l2-111h1l2 33l1 123h2l1-123l2 175l1-52l1-86l2 138l1 129l2-448l1 378l2-111l1-45h2l1 97l1-52l2-215l1 267l2-175l1 234h2l1 156l2-215l1 215l1-353l2 267l1 197l2-326l1 129l2 620l1-846h2l1 45h1l2 378l1-111l2-353l1 138l2-138l1 197l2-197l1 138h1l2-97l1 156l2 70l1 86l2-312l1-78l2 123l1 267l1-267l2-123l1 234l2-59l1-319l2 267l1 111l2 70l1-70h1l2 423l1-267l2-215l1-52l2 111l1-111l2 52l1 215l1-312l2-41l1 86l2 181l1 197l2-111l1-267l1 111l2-59h1l2 215l1 111l2-326l1 326l2-326l1 215l1-156l2 156h1l2-390l1 175l2 215l1 267l2-482l1 129l1 353l2-353l1-226l2 226l1 353h2l1 267l2-749l1 749l1-846l2 97l1 129l2 86l1-215h2l1-97l2 156l1 156l1-215l1 749M2986 3801v-620l2-70l1 70l2 620l1-801l2 181h1l1 86l2-267l1 111l2 156l1 111h2l1-111l2-86l1 353l1-156l2-197l1 86l2 267l1-579l2 226l1 620l2-690l1 70l1 86l2 111l1-197l1 620M3028 3801h0l2-423l1-326l2 59l1 423h1l2-353l1-129h2l1 215l2 267l1-482l2 129l1 353l1-482l2 129l1 197l2-197l1 353l2-482v749M3058 3801l1-620l1 86l1 534l2-749l1 215l2-390l1 234l2 267l1-197h2l1 620l1-267l2-267l1 534l2-423l1-111l2-86l1 353h2l1 267l1-267l2-267l1 267l2-267l1 111l2-326l1 482h3l1-156l2 423l1-267l2-156l1-197l2 353h3l1 267l1-620h2l1 620M3117 3801l1-690v690M3120 3801l1-534l1 267l2-267l1 111l1 156l2-156h1l2-267l1 70l2 620l1-267l2-423h1l1 690l2-423l1-111l2 267l1-156l2-197l1 86l2 111l1 156l1-423l2 156l1 534M3156 3801l1-267v267M3159 3801l1-267l1-267l1-86l2-226l1 579l2-267h1l2 267l1 267l2-267l1-267h1l2 111l1 423h2l1-534h3l2 267l1-156h1l2 423h1M3192 3801l1-267h1l2 267l1-267l2-156l1 423l1-620l2 353l1-156l2 156h1l2-267l1-86l2 353l1-156l1 156h2l1 267h1M3220 3801v-534l2-215l1 129h3l1 197l2-326l1 215l2 534l1-423l2-111l1 534l2-534l1-156l1 156l2 111h1l2-111h1l1 534M3248 3801l1-267l2 267l1-423l1-378l1 801M3256 3801v-534l2 111l1 156h6l1 267l2-423l1-111l2 267l1-267l2 111l1-111l2 111h1l1 423h1M3283 3801l1-690l1 690l2-534l1 534l2-423v423M3292 3801v-690l2 690l1-423l2 156l1-156l2 423l1-749l2 749l1-534l1 111h2l1 156l2-156h1l2 156h1l2 267l1-423h1l2 156l1 267M3323 3801h1l2-534l1 267l1 267M3329 3801l1-423l1 423h2l1-423l2 156v267M3338 3801l1-749l1 749h4M3345 3801h1l1-267h6l2-267v534M3358 3801l1-267l1-156l2 156l1 267h2l1-423h2l1 423h1M3371 3801l1-620h1l2 620h1l2-620l1 620l2-534v534M3384 3801l1-267l1-353l2 620l1-534l2 267l1 267l1-267l2 267h1M3397 3801h2M3400 3801l1-423l1 156h2l1-156l1 156h3l2-353l1 620M3414 3801l1-267l2 267h1l1-267l2-156l1 156h2l1 267M3426 3801l1-423v423M3429 3801h1l1-267h3l1-156l2 156h1l2-156l1 156l1 267M3445 3801v-423l2 156l1 267M3449 3801l1-534l1 534l2-267h8l2-423l1 423l1 267M3468 3801h1l1-267h1l1 267M3474 3801h0l2-534l1 534M3478 3801l1-267v267M3482 3801l1-534l1 267l2-156l1 423h1M3490 3801h0l2-267v267M3494 3801l1-423l1-197l1 353l2 267l1-423l1 423M3503 3801h4M3508 3801l1-423l1 156l2-156l1 423h2l1-267l2-353l1 353l2-156l1 423h1l2-534l1 267h2l1-267l2 534l1-423l2 423h4l1-267l2 267h0M3543 3801l1-267h4l1 267l2-267l1 267h1M3554 3801h1l2-267l1 267l2-423l1 156l1-267l2 267l1 267l2-423v423M3569 3801l1-423v423M3572 3801l1-423l1-111l1 534l2-423l1-111l2 111v423M3582 3801l1-423l1 156l1 267M3586 3801l1-267l1 267l2-534l1 534l2-423v423M3595 3801l1-267h1l2 267h2M3604 3801v-267l2-267l1 111l2-197l1 620h1M3612 3801h5M3618 3801l1-534l1 267h2v267M3624 3801v-267l2 267l1-423l2 423l1-534l1 534M3632 3801l1-267l1 267M3635 3801h2M3640 3801h1M3643 3801v-267l2 267h0M3647 3801h3M3651 3801l1-267l1 267h4M3660 3801l1-267l1 267h1M3666 3801h2l1-423l2 423h0M3673 3801h1l1-423l1 156l2-156l1 423l2-267h1l1 267M3686 3801h3M3692 3801h0l2-267l1 267l2-267v267M3700 3801h1l1-267l2 267h1M3709 3801l1-267l1 267h2l1-267l1 267l2-423l1 423h1M3721 3801v-423l1 423M3725 3801h2l1-267l2 267h3l1-267l1 267M3736 3801h2M3742 3801h1l1-534l2 534h3l1-534l1 534M3754 3801h3M3758 3801l1-423l1 423h1M3764 3801h3M3770 3801h1M3772 3801l1-267h2l1 267h1M3783 3801h0l2-267l1-267l2 267h1l2 267h1l1-534l2 534l1-423l2 423h7l1-267l2 267l1-267l1 267M3813 3801h1M3816 3801h3l2-267l1 267h2l1-267l1 267M3832 3801v-423h2l1 423h1M3842 3801h3M3848 3801h1M3850 3801l1-267l2 267h2M3858 3801v-267l2-156l1 423h2M3866 3801h1l1-267l1 267M3871 3801h1M3875 3801h1M3878 3801h1l1-267l1 267M3882 3801h2M3885 3801h2M3888 3801l1-267v267M3891 3801h1M3895 3801h2M3898 3801h2M3901 3801h1M3905 3801l1-267l1 267M3908 3801h2M3913 3801h1M3917 3801h3l2-267l1 267M3924 3801h2M3927 3801h3M3931 3801l1-267h1l2 267h4M3946 3801h0l2-267l1 267M3952 3801h1M3959 3801h3M3966 3801h3M3970 3801h5M3977 3801l1-267l1 267M3980 3801l1-423l2 423l1-267l1 267M3986 3801h2M3989 3801l1-423v423M3995 3801h1M3998 3801h1M4001 3801v-534l1 534M4005 3801h3M4009 3801h2M4014 3801v-267l2 267h3M4024 3801v-534l1 534M4027 3801h1M4029 3801h2M4034 3801l1-267l1 267l1-267l1 267M4044 3801l1-267v267M4048 3801h2M4053 3801v-267l1 267M4055 3801h1l2-267v267M4063 3801h1M4066 3801v-267l2 267h0M4071 3801h2M4076 3801h0l2-423l1 156l1 267M4083 3801h1M4090 3801l1-267l1 267M4093 3801h1l1-423l2 423h0M4100 3801l1-267l1 267h1M4105 3801v-423l1 423M4113 3801h5M4132 3801h1M4135 3801h1M4139 3801l1-267l1 267h7M4152 3801h1l1-267l2 267l1-267l2 267h0M4162 3801h3M4171 3801h4M4178 3801h3M4185 3801h2M4190 3801h0l2-423l1 423M4198 3801h2M4206 3801h0l2-267l1 267l2-267l1 267h2M4216 3801h1M4220 3801h1M4227 3801h3M4232 3801h1M4234 3801h2M4243 3801h2M4246 3801h1M4249 3801h1M4255 3801h1M4259 3801l1-423v423M4262 3801h1M4265 3801h1M4273 3801h1l2-267v267M4281 3801v-423l1 423M4285 3801h1M4291 3801l1-423l1 423h2M4298 3801l1-423v423M4305 3801h3M4311 3801l1-267v267M4315 3801h5l2-423l1 156l2 267h3l1-267l1 267h1M4333 3801h3M4338 3801l1-267l1 267M4343 3801h3M4347 3801h2M4353 3801h1M4362 3801v-267l1 267M4366 3801h1M4370 3801h1l1-267l2 267h1M4376 3801l1-423v423M4379 3801h3M4383 3801h2M4389 3801l1-267v267M4395 3801h3M4401 3801v-423l2 423h0M4405 3801l1-267v267M4408 3801h1M4411 3801h3M4427 3801h2M4432 3801h3M4447 3801h3M4451 3801h3M4461 3801h2M4467 3801h1M4471 3801h2M4476 3801h1M4478 3801l1-267l1 267M4481 3801h5M4487 3801l1-267l1 267M4491 3801h2M4497 3801h3M4504 3801l1-267l2 267h0M4517 3801l1-267l2 267h0M4522 3801h1M4530 3801h2M4541 3801h1M4543 3801l1-423l1 423M4551 3801h1M4561 3801v-423l1 423M4575 3801h2M4584 3801h1M4587 3801h1M4591 3801l1-267l1 267M4595 3801h3M4600 3801h3M4614 3801h3M4633 3801h1M4636 3801l1-267v267M4655 3801v-267l1 267M4666 3801h3M4676 3801h2M4682 3801h1M4686 3801h2M4695 3801h3M4701 3801h1M4718 3801h2M4721 3801h1M4743 3801h1M4764 3801h2M4782 3801h1M4792 3801v-267l2 267h1M4796 3801h2M4802 3801h1M4806 3801h2M4816 3801h2M4829 3801h2M4834 3801v-267l1 267M4841 3801h1M4845 3801h3M4854 3801h1M4861 3801h2M4865 3801h2M4871 3801h2M4876 3801v-267l1 267M4880 3801h1M4889 3801h1M4893 3801h3M4906 3801h1M4909 3801h1M4916 3801h1M4919 3801h1M4922 3801h1M4927 3801h2M4933 3801h2M4936 3801h2M4939 3801h1M4948 3801h1M4959 3801h2M4971 3801h3M4975 3801h2M4978 3801h1M4985 3801l1-267l1 267M4988 3801h3M5000 3801h1M5004 3801h1M5013 3801h1M5020 3801h1M5024 3801h2M5047 3801h2M5056 3801h1M5078 3801h1M5082 3801h4M5091 3801h1M5095 3801h1M5118 3801h2M5124 3801h1M5148 3801h2M5154 3801h2M5161 3801h2M5173 3801h1M5186 3801h4M5205 3801h1M5213 3801h2M5221 3801h1M5223 3801h3M5241 3801h3M5257 3801h1M5261 3801h1M5273 3801h1M5283 3801h1M5287 3801h3M5296 3801h3M5301 3801h2M5336 3801h2M5349 3801h1"/>
<path stroke="#00f" d="M1008 3801v-423l1 423M1011 3801h0l2-267l1-156h2l1-197l1 620M1019 3801h1l1-423l2-267l1 70l2-70l1 267l2-326l1 749l2-534l1-86l1 86l2-390h1l2-92l1 59l2-31l1-166l2-129l1 129l1-143l2-72l1-80l2-80l1 246l2-306l1 6l2-75l1-108l1 20l2-91l1-7l2-108l1-79l2 2l1-96l2-48l1-45l1-42l2-40l1-51l2 2l1-69l2-62l1-66l1-33l2-19l1-67l2 16l1-74l2-16l1-14l2-39l1-56l1-24l2-26l1-27l2-31l1-16l2-29l1-27l2-10l1-31l1-9l2-26l1-20l2-13l1-29l2-14l1-16l2-14l1-12l1-28l2-7l1-21l2-13l1-2l2-16l1-8l2-16l1-16l1 3l2-6l1-17l2 3l1-11l2-21l1 8l2-22l1-4l1-1l2-12l1-7l2-3l1-4l2-15l1 11l2-10l1-8l1-9l2 8l1-13l2-10l1-4l2 3l1-11l2 5l1-15l1 15l2-14l1-2l2-6l1 3l2-5l1-2l2-2l1-8l1-2l2 6l1-3l2 2l1-3l2-4h1l2 1l1 2l1-6h2l1 2l2-4l1 3l2-9l1 7l2-3l1 5l1 3l2-5l1-3l2 1l1 7l2 3l1-3l2 4l1 6l1-10l2 4l1 6l2-1l1-2l2-1l1 1l2 8h1l1 8l2-5l1 6l2-2l1 5l2 4l1 1h2l1 8l1 5l2 6l1 2l2-3l1 9l2 6l1 2l2-1l1 5l1 10l2 6l1-5l2 12l1 3h2l1 5l2-1l1 11l1 3l2 6l1 9l2-3l1 8l2 5l1 15l2 2l1-8l1 1l2 16l1-3l2 3l1 14l2 6l1-4l2 11l1-1l1 7l2-6l1 4l2 8l1 11l2 3l1-2l1 8l2-3l1 3l2 7h1l2 2l1 14l2 5l1 3l1 1h2l1-7l2 12l1 1l2 13l1-3l2-2l1 1l1 23l2-8l1 14l2-9l1 9l2 2l1 4l2-10l1 21l1 4l2-2l1 16l2-4l1 7l2 5l1 1l2-1l1 5l1-8l2 12l1 8l2-3l1-4l2 19l1-1h2l1 1l1 5l2-10l1 13l2 11l1 9l2-10l1 11l2 7l1-2l1 10h2l1-5l2-1l1 11h2l1-4l2 7l1 21l1-11l2-6l1 12l2 8l1-5l2 9l1 7l2 9l1-6l1-1l2 4l1 2l2 11l1-4l2 14l1-6l2 1l1 14l1 6l2-3l1 6l2-1l1 4l2 7l1 15l2-12l1 15l1-11l2 13l1 9l2-2l1-12l2 6l1 20l2-3l1-9l1 3l2 12l1 10l2-11l1 11l2-7l1 13l2 9h1l1-5h2l1 2l2 14l1 10l2-13h1l2 11l1 16l1-19l2 19h1l2-17l1 4l2 31l1-9l2 4l1 15l1 3l2-10l1 2l2 9l1 9l2-21l1 33l2-12l1 11h1l2 4l1-5l2 3l1 6h2l1 12l2 24l1-18l1 1l2 9l1-16l2 11l1 5l2 14l1 1l2 1l1 3l1-4l2 11l1 1l2-2l1-6l2 10l1 18l1-10l2 20l1-9l2 3l1 1l2 6l1-19l2 12l1 8l1 5l2 21l1 4l2-4l1-8l2 4l1 2l2 15l1 9l1-11l2 2l1 11l2-4l1-3l2 12l1-4l2-7l1 10l1 20l2-8l1 19l2-13l1-3l2 11l1 14l2-19l1-10l1 2l2 19l1 24l2-17l1 34l2-22l1 22l2-13l1 7h1l2-5l1 5l2 14l1 2l2-10l1 7l2-8l1 15l1-6l2 16l1 11l2-22l1 36l2 4l1-37l2 19l1 4l1 10l2 7l1-12l2 3l1 3l2 13l1-35l2 42l1-17l1 49l2-22l1 4l2-17l1 29l2-23l1 5l2-11l1 26l1 6l2 4l1-6l2-9l1 30l2-12l1-12l2 25l1-16l1 20l2 6l1-7l2 29l1-11l2-32l1 8l2 35l1-14l1 9l2 4l1-7l2 21l1-12l2 1l1-35l2 37l1-8l1 16l2-56l1 42l2 2l1 14l2 30l1-27l2 43l1-13l1-4l2-14l1 22l2 5l1 27l2-8l1 5l2 6l1-39l1 28l2-28l1 6l2 52l1-53l2 44l1-29l2 22l1 10l1 3l2-13l1 23l2-30l1 32l2-20l1 25l2-5l1-4l1 17l2 10l1-10l2-25l1 36l2 1l1 5l2-18l1 34l1-45l2 21l1-3l2 56l1-56l2 27l1 22l1-17l2 11h1l2 27l1-15l2-33l1 43l2-21l1 29l1-8l2-11l1 13l2-15l1 6l2 7l1 18l2-25l1 9l1-23l2 13l1 31l2 14l1 10l2-51l1 59l2 14l1-102l1 78l2-5l1-7l2-4l1 8l2 21l1-25l2 21l1 23l1 21l2-44l1-7l2 25l1-62l2 70l1 12l2-8l1 44l1-40l2-5l1 16l2 36l1-37l2 35l1-32l2 9l1-13l1 48l2-31l1 38l2-43l1-13l2 7l1-7l2 43l1 32l1-52l2 22l1-34l2 56l1-22l2 22l1-11l2 41l1-27l1-33l2 82l1-43l2 15l1 10l2-28l1-38l2 5l1 46l1 33l2-43l1 28l2 2l1-19l2 41l1-7l2-7l1 4l1-17l2 6l1-15l2 33l1-16l2 25l1 24l2-56l1-8l1 24l2 14l1 24l2 41l1 27l2-68l1-13l2 19l1-56l1 24l2 80l1-34l2 2h1l2-4l1 43l2-16l1-39l1 18l2 7l1 2l2-25l1 46h2l1 28l2-56l1-14l1 49l2-11l1 64l2-79l1 15l2 44l1 26l2-33l1-48l1 63l2-18l1-47l2 52l1 8l2-34l1 41l2-29l1 24l1-22l2 56l1-36l2 39l1-24l2 44l1-74l2 15l1 20l1 33l2 26l1-43l2-11l1 76l2-144l1 151l1-66l2-52l1-28l2 82l1 61l2-23l1 10l2 19l1-19l1 36l2-23l1-61l2 6l1 122l2-57l1 69l2-123l1 18l1 46l2-105l1 50l2 58l1-33l2-19l1-17h2l1 59l1-36l2 90l1-30l2-78l1 82l2 63l1-52l2 65l1-117l1 63l2-43l1 21l2-31l1-42l2 52l1 25l2-71l1 67l1 55l2-86l1 50l2 3l1 20l2-60l1-20l2 64l1 29l1-13l2-27l1-22l2 26l1 23h2l1-27l2 57l1-13l1-40l2 61l1-42l2 21l1-13l2 48l1-39l2 17l1 22l1-35l2 13l1 36l2-18l1-79l2 93l1 61l2-102l1 22l1-30l2 63l1 36l2-60l1 39l2 38l1-91l2 24l1 4h1l2-23l1-59l2 54l1 64l2-11l1 80l2 13l1-136l1-56l2 89l1 10l2 32l1-11l2 40l1-90l2 19l1 42l1 29l2-66l1 66l2 59l1-71l2-44l1-15l2-43l1-4l1 163l2-68l1 96l2-54l1-128l2 59l1 116l2-122l1 101l1 14l2-59l1 52l2-86l1 100l2-53l1 46l2 7l1 22l1-56l2 95l1-68l2-71l1 107l2-7l1-138l2 88l1-6l1-32l2-12l1 139l2-82l1-26l2-36l1 128l2-117l1 125l1-81l2 28l1 115l2-78l1-109l2 72l1-60l1 46l2 101l1-73l2 131l1-100l2 25l1 27l2 48l1-116l1-101l2 94l1 39l2 9l1 119l2-182l1-41l2 149l1 63l1-117l2-16l1 34l2 18l1-18l2 77l1-59l2-18l1-26l1 148l2-179l1 57l2-18l1-108l2 182l1-20l2 74l1-217l1 163l2-10l1 53l2-43l1 54l2 78l1-100l2 46l1 54l1-214l2 92l1-30l2-9l1 19l2 64l1 123l2-197l1-18l1 142l2-94l1 56l2-86l1 41l2-31l1-38l2 38h1l1 114l2-26l1-46l2-52l1 74l2 92l1-114l2 86l1-75l1 11l2 78l1 14l2-55l1 41l2 135l1-235l2 161l1-172l1 111l2 45l1 111l2-197l1-147l2 188l1-14l2 129l1-129l1-14l2 107l1-18l2-102l1 27l2-75l1-72l2 190l1-107h1l2-22l1 22l2 50l1 14l2 59l1-86l2 242l1-172l1-15l2-14l1 135l2-149h1l2 59l1-45h2l1 61l1 74l2 21l1-60l2-110l1-14l2 28l1 29l2 16l1-31l1-55l2 55l1 164l2-178l1-14l2 93l1-133l2 40l1 129l1-36l2-93l1 129l2-181l1 162l2-67l1 50l2-34l1 133l1-63l2-54l1-32l2 86l1-156l2 120l1 77l2-60l1-124l1 184l2-95l1-16l2-73l1 42l2 47l1-32l1 86l2 86l1-45l2 156l1-283l2 86l1-19l2-137l1 156l1 166l2-166l1-101l2 187l1-140l2 74l1-106l2-83l1 26l1 373l2-189l1 45l2-187l1 15l2 86l1 86l2-66l1 247l1-181l2-86l1 111l2-70l1-111l2 70l1-129l2 129h1l1 111l2-147l1-79l2 156l1-142h2l1 187h2l1-140l1-75l2 59l1 70l2 41l1 156l2-216l1-51l2 378l1 45l1-86l2-204l1 23h2l1-122l2 77l1 45l2 52l1 28l1 31l2-177l1 21l2 156l1-216l2 105l1 52l2-239l1 298h1l2 70l1-204l2 103l1-125l2 156l1-134h2l1-82l1 130l2-130l1 105l2-172l1 172h2l1 267l2-290l1-82h1l2 216h1l2-59l1 92l2-167l1 48h2l1-48l1 48l2 242l1-312l2 267l1-170l2-75l1 167l2-167l1 103h1l2-55l1 294l2-319l1 80l2-28l1-138l2 41l1 364l1-239l2-125l1 125l2 298l1-111l2-187l1-80l2 222l1-267l1 70h3l2 27l1 28l2-28l1 170l2 312l1-353l1-70l2-177l1 118l2 59h1l2 33h3l1-33l1-134l2 48l1 156l2 41l1-142l2-166l1 138l2 129l1-70l1 208l2-138l1-181l2 181h1l2-37l1 175l1-52l2-123l1 390l2-482l1 326l2-156l1 226l2-368l1 31l1 156l2-45l1-41l2 86h1l2-45l1-142l2 101h1l1-247l2 210l1-33l2 337l1-129l2-52l1-187l2-28l1 92l1-33l2 156l1-86h2l1-101l2 101l1 138l2-294l1 242h1l2-45l1-111l2 111l1 97h2l1-138l2-181l1 448l1-129l2-97l1 97l2-175l1-64l2 187l1-215l2 129l1 138h1l2-138l1 267l2-181l1-86l2-70l1 156l2 181l1-337l1 208l2 59l1 267l2-378l1-45l2 97l1 215l2-156l1-111l1-45l2-111l1 156l2-86l1 138l2-138l1 86l2-86l1 138l1 59l2-197l1 41h2l1-78l2 234l1 423l2-579l1-78l1 501l2-423l1-245l2 668l1-267l2 70l1-129l2-52l1 181l1-226l2 226l1-226l2 579l1-423l2-156l1 226l2-304l1 304h1l2 353l1-353l2-70l1-59l2 59l1 70l2-181l1 111h1l2-59l1-52l2-45l1 226l2-368l1 142l2 156l1 267l1-378l2 267l1 267l2-482l1 215l2 267l1-267l2-312l1 579l1-482l2 215h3l1-156l2 423l1-267l2-312l1 423l1 156l2-423l1 156l2-215l1 215l2-312v846M2918 3801l1-887l1 267l1-70l2 423l1-534l2 52l1 129l2 620h1l1-534l2 111l1-197l2-226l1 312l2-156l1-59l2 215l1-156l1 690l2-534l1-86l2 197l1-197l2-226l1 312h2l1 111l1 156l2-423l1 423l2-156l1 423l2-620l1 86l2 267l1-423l1 156l2-156l1 70l1 620M2976 3801v-423l2-111l1-86l2-70l1 690l1-534l2-86h1l2 86l1 267l2 267l1-267l2-156l1-326l1 215l2 267l1-156l2-197h3l1 197l2-197l1-226l1 312l2 267l1-267l2-86l1-129l2 215l1-156l2 156l1-215l1 215l2-86h1l2 86l1-86l2 86l1 534l2-690l1 690l1-423l2-197l1 353l2-353l1 86h2l1 267l1 267M3046 3801l1-620l1-129l2 215h1l2-156l1 267l2 156h1l2-267l1 111l1-197l2 197l1 156l2-423l1 267h5l1 156l1-156h3l2-111l1 111l2 156l1-534l2 267l1-156l1 156l2 267l1 267h3l2-267h1l2-423l1 156l1 111l2 156l1-156h2l1-111l2 534h1l2-423l1 156l1 267l2-267l1-423l2 267h1l2 156h1l2-353l1 620h1l2-267l1-267l1 534M3131 3801l1-267h2l1-156h4l2 156l1-156l2 423l1-267h2l1-353l2 197l1 156l1-156h2l1 423l2-267l1-156h2l1-111l1-156l2 423l1 267M3166 3801l1-267l1 267l2-423h1l2 156h2l2-267l1 267h2l1-267l2 267l1 267l2-267l1-353l1 353l2-156l1 156l2 267l1-534l2 267l1-267l2 267l1-267l1 534l2-423l1 423M3205 3801l1-690l1 156l2 111l1 423l2-534l1 267h1l2-156h1l2-197l1 197h2l1 423l2-423h1l1 423h2l1-423l1 423M3233 3801h0l2-267h1l2 267l1-267l1-156l2 156l1-267l2 111l1 156l2-156h1l2 156l1-156h1l2-111l1 534l2-620l1 197l2-326l1 129l2 353l1 267h1M3267 3801l1-690l1 156h2l1-215l2 749h1l2-267h2l2 267l1-423l2 423h0M3286 3801l1-423l1 156l2-423l1 423l1 267h2l1-267l2-156v423M3299 3801l1-620l1 197l2-111h1l1 267h2l1 267l2-534l1 534l2-534l1 111l2 156v267M3318 3801v-534l2 267l1-156l2-267l1 690l2-423h3l1 156l1-267l2 534h1M3335 3801l1-534l1 267l2-267l1 534l2-423l1-111h1l2 267l1 267l2-267h1l2-156l1 156l2-156l1-111l1 111l1 423M3360 3801v-267h3l2 267h0M3367 3801h2l1-267h3l2-156l1 156l2-156v423M3381 3801l1-534l1 111h2l1 156l2 267l1-267l1 267M3391 3801h1l1-423l2 156l1 267M3397 3801l1-267l1 267M3401 3801l1-267l2 267h4l1-267h2l1 267l2-620l1 353h2l1 267h7l2-423l1 156l2 267h3M3435 3801h0l2-267h1l1 267M3440 3801l1-267l2-156l1 156l1 267M3446 3801l1-423l1 423l2-267l1 267M3452 3801h1l1-267h2v267M3458 3801h2l1-267l2 267h1M3465 3801l1-267l1-156l2 423h1l1-267l2 267h1M3475 3801h2l2-423h1l2 423h0M3484 3801v-267l2-156l1 423l2-267l1-353l2 620h0M3494 3801l1-423h1l1 156l2 267h2M3503 3801v-267l1 267M3505 3801l1-423l2 156l1-156l1 156l2 267l1-423h2l1 156l2 267l1-534l2 534l1-534l1 534h3M3527 3801l1-267l1-267l2 111h1l2 156l1 267h2M3539 3801v-423h2l1 156h2l1-156h2l1 156l1-156l2 423h1M3553 3801h3M3557 3801l1-267l1 267M3560 3801l1-534l1 111l1 423M3565 3801v-267l1 267M3569 3801h1l1-423l2 423h3M3580 3801l1-267l2-267l1 267l2-156l1 156l1 267h2l1-267l2 267l1-267l2 267h0M3598 3801h1M3604 3801h0l2-267h3v267M3611 3801l1-423v423M3614 3801h0l2-423h1l2 156l1 267h2l1-267h1l1 267M3628 3801l1-267h1l1 267M3632 3801h3M3637 3801h3M3643 3801v-267h2l1 267l2-423v423M3650 3801h1M3653 3801v-267l1 267M3656 3801v-423l2 423h0M3660 3801h1l1-423l1 423h2l1-267h3l1 267M3671 3801h6M3679 3801h3M3683 3801l1-267v267M3686 3801h3M3690 3801h3M3695 3801v-267l2 267h2M3700 3801l1-267h3l1 267M3706 3801l1-267l1 267M3709 3801h1l1-267l2 267h0M3716 3801l1-267h3l1 267M3723 3801l1-423l2 423h3M3731 3801h1M3734 3801h1M3739 3801l1-423l1 423M3742 3801l1-267l1 267M3745 3801l1-267l1 267h10M3759 3801h8M3768 3801l1-267l1 267h2M3774 3801h1l1-267l1 267M3778 3801h2M3781 3801h3M3785 3801l1-267l2 267h6M3796 3801v-267l1 267M3798 3801l1-267l1 267M3801 3801h5l2-423l1 423M3811 3801l1-267l1 267M3814 3801l1-267l2 267h0M3822 3801h1M3824 3801h2M3827 3801h1l2-423v423M3832 3801v-267l1 267M3835 3801v-267l1 267M3837 3801h2M3842 3801l1-267v267M3845 3801v-267l2 267l1-267h3l1 267M3856 3801h2M3859 3801l1-267l1 267M3863 3801h1l2-267l1 267h1M3871 3801h0l2-423h1l2 423h2M3884 3801h1M3888 3801h2l2-423v423M3895 3801h2M3900 3801h2M3904 3801h3M3908 3801l1-267l1 267M3914 3801h1l1-267l2 267h0M3920 3801v-267l2-156l1 423M3927 3801h1M3931 3801h1l1-267l2 267h1M3937 3801l1-267l1 267h1M3943 3801l1-267v267M3946 3801v-267l1 267M3949 3801h0l2-423l1 423h2M3959 3801v-423l1 423M3962 3801h0l2-267l1 267M3966 3801h1l1-423l2 156l1 267h1M3975 3801v-423l2 423h0M3979 3801h1M3982 3801l1-534v534M3986 3801l1-423l1 423M3992 3801h1l1-267l2 267h2M3999 3801h2M4003 3801h1l2-267v267M4008 3801l1-267l1-156l1 423h1M4014 3801v-267l2 267h0M4021 3801h3M4025 3801h2M4028 3801l1-267v267M4031 3801l1-267v267M4034 3801h1l1-267l1 267M4038 3801h2M4044 3801h1M4047 3801h1M4055 3801h3M4060 3801h1l1-267l1 267h1M4068 3801h5M4074 3801l1-267l1 267M4077 3801h2M4081 3801h2M4084 3801h2M4087 3801h2M4090 3801h4M4096 3801h1M4110 3801h2M4116 3801h2M4119 3801h3M4123 3801l1-267l1 267M4128 3801h1M4131 3801v-267l1 267M4133 3801h2M4136 3801h1l1-267h2l1 267M4144 3801h1M4151 3801h1M4154 3801v-423l1 423M4159 3801h2M4162 3801l1-267l1 267M4167 3801h2l1-267h2v267M4178 3801h2M4184 3801l1-267v267M4188 3801h3M4194 3801l1-267l1 267h1M4198 3801h2M4204 3801h1l1-423l1 423M4208 3801h2M4216 3801h0l2-423l1 423h2M4223 3801h3M4227 3801l1-267l1 267h1M4233 3801h3M4237 3801h5M4246 3801h1l1-534l1 534M4250 3801h2M4253 3801h3M4258 3801h1M4260 3801h4l2-267v267M4271 3801h1M4282 3801h2M4285 3801h1l1-423l1 423M4289 3801l1-267l1 267M4292 3801l1-267l1 267h3l2-423v423M4301 3801h3M4305 3801h3M4314 3801l1-423v423M4317 3801v-267l1 267M4320 3801h1M4325 3801h3M4333 3801v-267l1 267M4336 3801h0l2-267v267M4346 3801v-267l1 267M4349 3801h2M4353 3801h1l1-267l1-267l2 534h1M4364 3801h1l2-267v267M4370 3801h7M4380 3801h1l1-267l1 267M4385 3801v-267l2 267h2M4390 3801h5M4402 3801l1-423l1 423h1M4408 3801h2l1-423l1 423M4418 3801l1-423v423M4428 3801h1M4431 3801h1M4437 3801h1M4442 3801h2M4445 3801h2M4452 3801h2M4455 3801h2M4460 3801v-267l1 267M4464 3801h1M4476 3801h1M4478 3801h5M4484 3801h2l2-423l1 423M4493 3801h1M4496 3801l1-267l1 267h5M4507 3801h2M4510 3801h2M4513 3801h3M4525 3801h1M4530 3801h3M4546 3801h2M4552 3801h2M4555 3801h1M4564 3801h1M4568 3801h4M4578 3801h2M4590 3801v-267l1 267M4593 3801h1M4597 3801h1M4610 3801h1M4613 3801h1M4620 3801l1-267v267M4626 3801h1M4630 3801h2M4645 3801h1M4659 3801h3M4672 3801h1M4675 3801h1M4678 3801h1M4682 3801l1-267v267M4685 3801h1M4694 3801h1M4698 3801h3M4709 3801h2M4714 3801h1M4718 3801h4M4730 3801h1M4733 3801v-267l1 267M4735 3801h2M4738 3801h2M4748 3801h1l2-267v267M4759 3801v-267h2v267M4763 3801h1M4779 3801h1M4806 3801h2M4815 3801h4M4822 3801h2M4842 3801h2M4847 3801h1M4852 3801h2M4858 3801h2M4865 3801h2M4874 3801h2M4881 3801h2M4909 3801h1M4912 3801h2M4922 3801v-267l1 267M4929 3801h1M4932 3801l1-267v267M4952 3801h1M4958 3801h1M4966 3801h2M4972 3801h3M4984 3801h1M4990 3801h1M5016 3801v-267l1 267M5020 3801h1M5068 3801h1M5073 3801h2M5076 3801l1-267l1 267M5083 3801h3M5089 3801h2M5096 3801l1-267l2 267h1l1-267l1 267M5107 3801h1M5127 3801h1M5130 3801h1M5143 3801v-267l1 267M5145 3801h2M5151 3801h3M5160 3801h4M5184 3801h3M5190 3801h2M5200 3801h2M5209 3801h1M5215 3801h1M5225 3801h1M5229 3801h2M5235 3801h1M5248 3801l1-267v267M5252 3801h3M5264 3801h1M5267 3801h1M5270 3801h1M5277 3801h1M5288 3801h3M5303 3801h1M5309 3801h1M5346 3801h2"/>
<path stroke="#00ff00" d="M859 3801h1M1011 3801h1M1015 3801h1M1018 3801h1l1-267h1l1 267M1025 3801h1M1028 3801l1-423l1-267h2l1 267l1-197l2-304l1 304l2-70l1-156l2-41l1-181l2-23l1-82l1 39l2-90l1-73l2-202l1 119h2l1-170l2-33l1-163l1-35l2-40l1-35l2 9l1-138l2-13l1-52l2-56l1-47l1-45l2-21l1-88l2-26l1-106l2-4l1-73l1-4l2-39l1-77l2-8l1-32l2-44l1-21l2-35l1-44l1-21l2-28l1-32l2-31l1-32l2-13l1-29l2-13l1-31l1-30l2-10l1-16l2-19l1-14l2-18l1-5l2-28l1-30l1-15l2 3l1-37l2 1l1-19l2-13l1-7l2-6l1-22l1-10l2-4l1-3l2-12l1-20l2 3l1-16l2-4l1 1l1-14l2-10l1-1l2-1l1-15l2-2l1-4l2-10l1-4l1-5l2-10l1-1l2-12l1 8l2-11l1-13l2 12l1-8l1-4l2 1l1-7l2 2l1-5l2-3l1-6l2 7l1-9l1 2l2-10l1 7l2-10l1 4l2-1l1 4l2-8l1-9l1 8l2 3h1l2 1l1-8l2 4l1 2l2-7l1 2l1 7l2-5l1-5l2 4l1 1l2 1l1 8l2-14l1 18l1-10l2 7h1l2-5l1 4l2 3l1 1l2 3l1 8h1l2-1l1 2l2 1l1 1l2 7l1 6h2l1-6l1 14l2-1l1 5l2 2l1 4l2-2l1 15l2-3l1 10l1 2h2l1 1l2 6l1 4l2 4l1 10l2-5l1 3l1 10l2-2l1 4l2 8l1 9l2 1l1 1l2 12h1l1 1l2 13l1 15l2-19l1 16l2 14l1-11l2 1l1 7l1 11h2l1 9l2-2l1 4l2-1l1-3l1 15l2 4l1 3l2 14h1l2-13l1 9l2 4l1 3l1 2l2 7l1 11l2-2l1 5l2 6h1l2 8l1 6h1l2-2l1 14l2-9l1 9l2 3l1 7l2-3l1 8l1 7l2 12l1-18l2 11l1 11l2-4l1 4l2 19l1-16l1 15l2-8l1 8l2-9l1 20l2-3l1 4l2 13l1-9l1 6l2 12l1-2l2-11l1 19l2 3h1l2 12l1-12l1 6l2 7l1 5l2-2l1 6l2 5l1-4l2-4l1 19l1 1l2 9l1-1l2 2l1-3l2 12l1 9l2-8l1 9l1 11l2 6l1-13l2 6l1-1l2-2l1 7l2 4l1 16l1-13l2 8l1 4l2-3l1 19l2 5l1-8l2-7l1 16l1-1h2l1 9l2 1l1-1l2 5l1 22l2-10l1-3l1 13l2-3l1 15l2-14l1 27l2-11l1-5l2 13l1 4l1-1l2 9h1l2 8l1-5l2-3l1 17l2-9l1 20l1-8l2-3l1 6h2l1 1l2 5l1 12l2-2l1 1l1 6l2 11h1l2-12l1 26l2-2l1-7l2 11l1-11l1 9l2-4l1 19l2-5l1-10l2 18l1-5l2 5l1 13l1-3l2 5l1 18l2-10h1l2 15l1-10l2-4l1 23l1-9l2-8l1 15l2-22l1 35l2 4l1-9l1 19l2-2l1-19l2 7l1 15l2-3l1 2l2 1l1 24l1-14l2 31l1 6l2-15l1-9l2 14l1 2l2-8l1 17l1-5l2 10l1-11l2 3l1 19l2-3l1 2l2-13l1 15l1 15l2-4l1 10l2 8l1-20l2-7l1 28l2-11l1 3l1-7l2 33l1-26l2 28l1 11l2-14l1 25l2 12l1-6l1-3l2-29l1 15l2-22l1 24l2 16l1-21l2 4l1 6l1-4l2 35l1-9l2 2l1 6l2-9l1 23l2-35l1 37l1 3l2 5l1-22l2 12l1 10l2 9l1 14l2 5l1-14l1 15l2 4l1-28l2 1l1 14l2 9l1-5l2 13l1-6l1 6l2 9l1 30l2-37l1 45l2-21l1-4l2-1l1 18l1-3l2-20l1 3l2-21l1 48l2-10l1 6l2-15l1 23l1 3l2 16l1 2l2 13l1-29l2 8l1 4l2 4l1-19l1 28l2-12l1 5h2l1 19l2-3l1-21l2 10l1 40l1-15h2l1 4l2 8l1-19l2 14l1-4l2 4l1 40l1 12l2-44l1 21l2-36l1 33l2 1l1 13l2 8l1-23l1 7l2 30l1-21l2 1l1 25l2-35l1 25l2-9l1 14l1-16l2-10l1 23l2 5l1 26l2-30l1 20l2-6l1-8l1 14l2 36l1-31l2 7l1 9l2-21l1 7l1 27l2-16l1 19l2-23l1 42l2-13l1 2l2 14l1-30l1 18l2 34l1 21l2-59l1 22l2 14l1-45l2 32l1 31l1-32l2 38l1-13l2-11l1 5l2-8l1 9l2-3l1-19l1 29l2 4l1 23l2-21l1 10l2 2l1 39l2-43l1 28l1 7l2-29l1 20l2 46l1-33h2l1-45l2 51l1-3l1-19l2 20l1 12l2-22l1 12l2 23l1-14l2-16l1 48l1-14l2 23l1-5l2-25l1-8l2 13l1 20l2-5l1-20l1-1l2 25l1 43l2-23l1-30l2 6l1 26l2-3l1 5l1-16l2 14l1 13l2 1l1-48l2 83l1-48l2 47l1-31l1 84l2-84l1-19l2 39l1-30l2 30l1-22l2 59l1-25l1 32h2l1-25l2 60l1-133l2 107l1-29l2-48l1 54l1-27l2 32l1 20l2 3l1-23l2-11l1-24l2 30l1 12l1 5l2 18l1 6l2-25l1 75l2-56l1-10l2 20l1-10l1 29l2-19l1 19l2 27l1-27l2-4l1 42l2-24l1 4l1-37l2 50l1-43l2 52l1-28l2 30l1-9l2-2l1 84l1-66l2-11h1l2 32l1-56l2 60l1-4l2 19l1-47l1-26l2 61l1 7l2 36l1 31l2-95l1 18l2 3l1 33l1-6h2l1-27l2 60l1-48l2 10l1 3l1 46l2-33l1-11l2 33l1-19l2 5l1 6l2 47l1-56l1 34l2-31l1-39l2 10l1-7l2 47l1-5l2 28l1-45l1 80l2-52l1 39l2-16l1 59l2-37h1l2 13l1-38l1 35l2-10l1-31l2-3l1-11l2 33l1 42l2 7l1-3l1 10l2-10l1-59l2 38l1 7l2 87l1-66l2-28l1 4l1 42l2-18l1 37l2-37l1 29l2-50l1 24l2-24l1-7l1 46l2-11l1 72l2-86l1 36l2-26l1 4l2 26l1 54l1-80l2 46l1 87l2-126l1 35l2-23l1 135l2-64l1 59l1-86l2-56l1 12l2 36h1l2 35l1-56l2 38l1 66l1-104l2-4l1 46l2-17l1 4l2-37l1 29l2 53l1-28l1 24h2l1-14l2 43l1-29l2 9l1-37l2 118l1-12l1 50l2-99l1 38l2-99l1 32l2-32l1 82l2 53l1-99l1-32l2 68l1 75l2-111l1 74l2 18l1-77l2 103l1-61l1 12l2-49l1 16l2 138l1-100l2 44h1l2-55l1 61l1-94l2 44l1 25l2-69l1 129l2-113l1 11l2 48l1-48l1-21l2 88l1-6l2-61l1 23l2-28l1 22l2-28l1 40l1 59l2-46l1-30l2 62l1-13l2-13l1 40l2-88l1 42l1 32l2-32l1 123l2-91l1 74l2-113h1l1 97l2-143l1 135l2-29l1 7l2-41l1 140l2-106l1 106l1-61l2-38l1 15l2 65l1-80l2-7l1 37l2 24l1-61l1 97l2-18l1-50l2-89l1 60l2 22l1 31l2 44l1 18l1-45l2 17l1 58l2-20l1-46l2-18l1 18l2 8l1-26l1 54l2 20l1-135l2 145l1 44l2-92l1 59l2-134l1 156l1-33l2-30h3l1-70l2 111l1-127l2 68l1 38l1 10l2-10l1-90l2 80l1 128l2-97l1 97l2 93l1-240l1-27l2 27l1 161l2-28l1-169l2 86l1 125l2-114l1 72l1-169l2 242l1-197l2 20l1 78l2 40l1-86l2 59l1 70l1-181l2 152l1-89l2 11l1 78l2-111l1 125l2-166l1 30l1 183l2-222l1 50l2 97l1-27l2-101l1 156l2-136l1 151l1-70l2-70h1l2 33l1 50l2-26l1 26l2-104l1 177l1-45l2-89l1 75l2-64l1-33l2 267l1-156l2 253l1-253l1-14l2 14l1 96l2-124l1 89l2-139l1 123l2-45l1-28l1-26l2 150l1-162l2 201h1l2-224l1 89l2 201l1-229l1 57l2-95l1 66l2-28h1l2 107h1l2-65l1 31l1-73l2 73h1l2 16l1-47l2-55l1 27l2 192l1-256l1 50l2 107l1 147l2-337h1l2 140l1-29h1l2 29l1 127l2-197l1 137h2l1-150l2 280l1-130l1-67l2 32l1 54l2-54l1-32l2-15l1-55l2 156l1-86l1 197l2-48l1 23l2-229l1 107l2 77l1-21l2 91l1-254l1 184l2-77l1 99l2 75l1-157l2-17l1 147l2-280l1 210l1-60l2 19l1 111l2-48l1-99l2-18l1 35l2 60l1-60l1 82l2-133l1 236l2-166l1-70l2 133h1l2 134l1-156l1-60l2-17l1 17l2 157l1-75l2-149l1 197l2 119l1-64l1 64l2-92l1-118l2 66l1-23l2 23l1-66l2 21l1 70l1-147l2 77l1 70l2-165l1-89l2 206l1 167l2-144l1-23l1 167l2-167l1-117l2 165l1-70l2-77l1-79l2 312l1 70l1-303l2 17l1 286l2-101l1-55l2-130l1 60l2 45l1 25l1 294l2-175l1-92l2-97l1 97l2 129l1-267l2-36l1 233l1-177l2 210l1-249l2 19l1 41l2 22l1-117l2 192l1 92l1-144l2 25l1 294l2-342l1-22l2-41l1 20l2 146l1-55l1 156l2-181l1 80l2-146l1 177l2-86l1 86l2-134l1 23l1-23l2 245l1-111l2 111l1-197l2 27l1 129l2 197h1l1-156l2-197l1 55l2 239l1-239l2 31l1 337l2-471l1 103l1-28l2 92l1-33l2-86l1 156l2-70l1 33l1 78h2l1-197l2-70l1 312l2 52l1 59l2-298l1 64h1l2-92l1 170l2-197h1l2 86l1 33l2 123l1-156l1 33l2 175l1-239l2 31l1-59l2 170l1-41l2-37l1 78l1 156l2-156l1-41l2-156l1 156l2-101l1-28h2l1 267l1-52l2-187l1 239l2-208l1 70h2l1 197l2-59l1-52l1 267l2-353l1-101l2 187l1-45l2-78l1 123l2-45l1 226l1-70l2-59l1 215l2-454l1 239l2 59l1 70h3l1-70l2-59h1l2 59l1-326l2 92l1 37l2 41l1-170l1 267l2-175h1l2 175l1 59l2 70l1-129l2 129l1-181l1 181h2l1-304l2 123h3l1-215l2 215l1-242l1 119l2 234l1-111l2-123l1 37l2 138l1-52l2-123l1 501l1-423l2 226l1-70l2-59l1 59l2 267l1-111l2-353h1l1 138h2l1-97l2 97l1-52l2 267l1-454l2 298l1 156l1-390l2 37l1-37l2 175l1 326l2-464l1 267l2 353l1-620l1 86l2 52l1 482l2-482h3l1 59l2 267l1-378l1 181l2-181l1-123l2 390l1-423h2l1 208h2l1 59l1 70l2-337l1 423l2 111l1-267l2 267l1-111l2-215l1 59l1 156l2 267l1-353l2 353l1-156l2-423l1 156l1-234l2 175l1 482l2-353l1-226l2 156l1 156l2-86l1-267l1 353h2l1-215l2 129h1l2-70l1-59l2 129h2l2-70l1 690l2-620l1-129l2 326l1-326l2 215l1-86l1-129l2 482l1-267l2 267l1 267l2-801l1 267h2l1-215h1l2 59l1 423l2-353l1 86l2-86l1-129l2 326l1-197l1 197l2-326l1 129h2l1 86l2-267l1 111l2 423l1-353l1 86l2-215l1 326l2 423l1-749l2 326l1-197l2-129l1 129l1 620l2-846l1 579l2 267h1l2-620l1 197h2l1-197l1 86l2-86l1 86l2 111h1l2-111l1 534l2-534l1 267l1-156l2-111l1 111l2 156l1-156l2 156l1-353l2 620l1-267l1-353l2 197h3l1 156l2-579l1 423l2 156h1l1-423l2 423l1 267l2-267l1-267h2l1-215l2 129l1 353l1-267h2l1 111l2-111l1 267l2-156l1-111l2-86l1-70l1 423l2-156h3l1-111h3l2 111l1-326l1 482l2-267l1-156l2 423h1l2-267l1 267l2-156l1-111l1 111l2 156l1-353l1 620M3131 3801l1-423l2-111l1-215l2 215h2l2 267l1-423l2 70h1l2 353l1 267l2-423l1-111l1 267l2-267l1 267l2 267h0M3159 3801l1-267l1-156l1-378l2 534l1-482l2 749l1-423l2 156h1l2-353l1 353l1-267l2-215l1 215l2 111h1l1 423M3183 3801l1-267l2-267l1-86l1 620l2-267h1l2-353l1 86h3l2 111h4l1 156l1 267M3207 3801v-423l2 156l1-156h2l1 156l1-156l2-197l1 197l2-111l1 111h2l1 156l2-156l1-111l1 111l2 423l1-267l2-423l1 423l2 267h0M3238 3801l1-620l1 353h2l1 267M3244 3801l1-267l1-423l2 267l1 156h2l1-267l1 267h2l1-156l2-111l1 111h3l2 156h2l2-156l1 423M3270 3801h1l1-267l2 267l1-620h2l1 353l1 267l2-620l1 620M3283 3801l1-267l1-156l2-197v620M3289 3801h1l1-267l1-156l1 423M3295 3801v-423l2-197l1 620l2-423l1 423h2l1-267h3l1-267l2 111l1 156h2l1-156l2 423h1l1-423h2l1 423l2-267h3v267M3328 3801h2l1-534l2-86l1 620M3335 3801l1-423l1 156h2l1 267l2-423l1 423h3l1-620l2 353l1 267l2-267h1l1 267M3357 3801h0l2-423l1 423M3361 3801h1l1-423l1 423M3365 3801l1-267l2-156l1 156l1-353l2 353h1l2 267h1l2-534l1 267l1 267M3381 3801l1-534l1 111h2l1 423h2l1-267l2 267h1l1-423l2 156l1 267l2-423l1 156l2 267l1-423l2 156h2l1 267M3409 3801v-267h2l1-353l2 86l1 267l2-156l1 156l1 267M3420 3801h1l1-267l2-156l1 156l2 267h2M3430 3801l1-534h1l2 111l1-111l2 534h1M3439 3801h1l1-620l2 353l1-267l1 534l2-267l1 267M3449 3801l1-267l1-156l2 423l1-267h2l1-156l1 423h2l1-267l2 267l1-423l2 423l1-267h2l1 267h2M3474 3801h0l2-534l1 267h2l1 267h2l1-267l1 267M3485 3801h4l1-423l2 156v267M3494 3801h1M3497 3801h1M3500 3801h2l1-267l2 267h1l2-267l1 267h1l2-267h1l2 267l1-267l2-156l1 156h3l1 267h4M3528 3801l1-534l1 534M3531 3801l1-423l2 423h0M3537 3801l1-423h1l2 423l1-534l2 111l1-111l2 267l1 267h2M3552 3801v-534l2 111l1 423h1M3557 3801l1-534l2 267h1l1-156h2l1 156l2 267l1-423l2 156l1 267h1M3573 3801l1-534l1 534l2-267h3l1-267l2 534l1-423l2 156l1-267l1 534l2-423l1-111l2 534h3M3598 3801l1-267l1-156l1 423M3604 3801h0l2-534v534M3609 3801l1-423l2-111l1 534l1-423l1 423M3617 3801v-534l1 534M3619 3801l1-423l2 423h0M3624 3801h5l1-534l2 267v267M3634 3801l1-423l1 156l1 267M3638 3801l1-267h1l2-156l1 423l2-267v267M3648 3801h2l2-423h1l1 423M3656 3801h2l1-267l1 267M3661 3801l1-267l1 267h1M3666 3801h1M3674 3801l1-423l1 423M3677 3801h1l1-267h2l1 267M3684 3801h2M3687 3801l1-267l1-156h2l1 156l2-156l1 423l2-267l1-267l2 534l1-267l1 267M3703 3801h3M3708 3801h0l2-267v267M3712 3801h2l1-423l1 423M3721 3801h1M3726 3801h2l2-267l1 267l2-267l1 267M3738 3801h1M3742 3801h2M3746 3801l1-267h2l1 267h2l1-423l1 423h3M3758 3801h4M3764 3801h3M3768 3801l1-267h1l2-156v423M3774 3801h1M3777 3801h1l1-267l1 267M3784 3801l1-267h1l1 267M3788 3801l1-267l2 267h2M3794 3801h1l1-267h2l1-156l1 423M3801 3801h3M3809 3801h2M3813 3801h1M3816 3801h1l1-267l1 267l2-267h1l1 267M3824 3801l1-423l1 423M3827 3801l1-267l2 267h0M3832 3801h1M3836 3801h3M3842 3801l1-423v423M3845 3801h1M3848 3801h0l2-423v423M3852 3801l1-267l1-156l1 423M3856 3801l1-267l1 267h3M3863 3801h1l2-267v267M3869 3801l1-534l1 534M3874 3801h0l2-267v267M3879 3801h2M3882 3801h2M3891 3801l1-267l1 267h1M3895 3801h6M3904 3801h1M3910 3801h1M3913 3801h0l2-423l1 156l2-156v423M3920 3801h1M3923 3801v-267l2 267l1-267l1 267M3930 3801h1M3933 3801h0l2-267l1 267h1M3939 3801v-267l2 267h3M3946 3801h3l2-267h1l1 267M3954 3801h2M3957 3801l1-423l1 423M3962 3801h1M3966 3801l1-267l1 267h1M3970 3801h3M3976 3801h4M3982 3801h3M3986 3801h1l1-423l2 423h3l1-267l1 267M3996 3801h1l1-534l1 534M4001 3801h1M4003 3801h2M4009 3801l1-267l1 267h1M4015 3801h1l1-267l2 267l1-267l2 267h2M4027 3801v-267l1 267M4031 3801h1l1-267h2l1 267h4M4042 3801h5M4048 3801h2M4054 3801l1-267l1 267l2-267h1l1 267M4063 3801h1M4066 3801v-620l1 620M4068 3801h1l2-423v423M4073 3801h1M4079 3801v-267l2 267l1-267l2 267h2l2-267l1 267h1M4092 3801h2M4099 3801h3M4103 3801h2M4106 3801h1l1-267l1 267M4112 3801h3M4118 3801v-423l1 423M4129 3801l1-267l1 267h2l1-267l2 267h0M4138 3801h1M4141 3801v-423l2 423h2M4146 3801h3M4151 3801h0l2-423l1 423h1M4157 3801h1M4162 3801l1-267l1 267M4168 3801h2M4171 3801l1-267h1l2 267h0M4178 3801l1-267l1 267M4181 3801h1l1-267l2-156l1 423h3l1-267l2-156l1 156l1 267M4198 3801h1l2-267v267M4203 3801v-267l1 267M4206 3801v-267l1 267M4216 3801h1M4220 3801h1M4223 3801h1M4226 3801h1l1-423l1 423M4232 3801h1M4236 3801h1M4240 3801h5M4246 3801l1-267l1 267h1M4252 3801l1-267v267M4258 3801v-267l1 267M4260 3801h1l2-267l1 267l2-267v267M4269 3801h1l1-267l2-156l1 423l2-267l1 267h1M4279 3801l1-267l1 267M4282 3801h1l1-267l1 267M4286 3801h3M4291 3801h1l1-267l1 267h7M4305 3801l1-423l1 423M4310 3801h0l2-423l1 423h2M4317 3801v-423l2 423h1M4323 3801h1M4325 3801h2M4328 3801h6M4336 3801h1M4341 3801h4l1-267l2 267h1M4351 3801l1-267l1 267M4354 3801h2M4359 3801h1M4362 3801h1M4364 3801h2M4367 3801h5M4375 3801h2M4382 3801h1M4385 3801h2l1-267l2 267h0M4392 3801h1l1-423l1 423h1M4398 3801h1M4401 3801v-267l2 267h0M4408 3801h1M4411 3801h4M4416 3801h3M4422 3801h2l2-267l1 267M4428 3801h1l1-267l1 267M4434 3801v-423l2 423h1M4438 3801h6M4445 3801l1-267l1 267h1M4450 3801v-267l1 267M4452 3801h3M4458 3801h1l1-267l1 267M4464 3801h2l2-267h1l2 267h2M4474 3801h3M4480 3801h1M4483 3801l1-267l1 267h1M4493 3801h1M4499 3801h0l2-534l1 534h1M4509 3801h1M4513 3801l1-267l1 267h1M4526 3801h2M4530 3801l1-267h2l1 267h1M4536 3801l1-267l1 267M4541 3801h1M4548 3801v-267l2 267h1M4554 3801h1M4562 3801h2M4577 3801h1M4585 3801h3M4600 3801h1M4616 3801h1M4620 3801h1M4626 3801h1M4639 3801v-267l1 267M4643 3801h3M4649 3801l1-267v267M4652 3801h1M4681 3801h1M4688 3801h3M4694 3801h1M4698 3801h3M4708 3801h1M4714 3801h1M4725 3801h2M4734 3801h6M4741 3801l1-267l1 267M4744 3801h2M4747 3801h1M4757 3801h1l1-267l2 267h0M4763 3801h1M4774 3801h2M4786 3801h1M4790 3801h2M4800 3801h2M4806 3801h2M4811 3801h4M4818 3801h1M4822 3801l1-267l1 267h1M4826 3801h2M4832 3801h3M4845 3801h2M4850 3801h1M4860 3801h1M4863 3801h1M4871 3801h2M4878 3801h2M4881 3801h2M4889 3801h1M4891 3801h2M4907 3801h2M4912 3801h1M4916 3801l1-267v267M4932 3801h3M4936 3801h3M4945 3801h3M4953 3801h2M4969 3801h2M4981 3801h1M4994 3801h1M5000 3801h0l2-267l1 267h1M5008 3801h2M5034 3801h2M5039 3801h1M5062 3801h1M5072 3801h1M5081 3801h1M5083 3801h2M5086 3801h2M5091 3801h1M5095 3801h1M5130 3801h1M5138 3801h2M5154 3801h2M5160 3801h1M5179 3801h1M5197 3801h2M5202 3801h1M5206 3801h2M5228 3801h1M5234 3801h1M5251 3801h1M5271 3801h2M5275 3801h3M5283 3801h3M5306 3801h1M5310 3801h2M5316 3801l1-267v267M5319 3801v-267l1 267M5346 3801h2"/>
</g>
<rect x="92.6" y="379.4" width="1.4" height="1.4" fill="#f00"/>
<path d="M84.5 24.8 V388.8 H535.6" fill="none" stroke="#000" stroke-width="1.3"/>
<path d="M84.5 380.1H77M84.5 353.4H80.9M84.5 337.8H80.9M84.5 326.7H80.9M84.5 318.1H80.9M84.5 311.1H80.9M84.5 305.2H80.9M84.5 300H80.9M84.5 295.5H80.9M84.5 291.4H77M84.5 264.7H80.9M84.5 249.1H80.9M84.5 238H80.9M84.5 229.4H80.9M84.5 222.4H80.9M84.5 216.5H80.9M84.5 211.3H80.9M84.5 206.8H80.9M84.5 202.7H77M84.5 176H80.9M84.5 160.4H80.9M84.5 149.3H80.9M84.5 140.8H80.9M84.5 133.7H80.9M84.5 127.8H80.9M84.5 122.7H80.9M84.5 118.1H80.9M84.5 114.1H77M84.5 87.4H80.9M84.5 71.7H80.9M84.5 60.7H80.9M84.5 52.1H80.9M84.5 45.1H80.9M84.5 39.1H80.9M84.5 34H80.9M84.5 29.4H80.9M84.5 25.4H77M84.5 384.2H80.9M84.5 388.7H80.9M130.8 388.8V395.7M246.3 388.8V395.7M361.8 388.8V395.7M477.3 388.8V395.7M188.6 388.8V392.4M304.1 388.8V392.4M419.6 388.8V392.4M535 388.8V392.4" fill="none" stroke="#000" stroke-width="1.2"/>
<g font-family="'Liberation Serif', serif" font-weight="bold" font-size="16" fill="#000">
<text x="72.3" y="385.3" text-anchor="end">1</text>
<text x="72.3" y="296.6" text-anchor="end">10</text>
<text x="72.3" y="207.9" text-anchor="end">100</text>
<text x="72.3" y="119.3" text-anchor="end">1000</text>
<text x="72.3" y="30.6" text-anchor="end">10000</text>
<text x="131.1" y="413" text-anchor="middle">10</text>
<text x="246.6" y="413" text-anchor="middle">20</text>
<text x="362.1" y="413" text-anchor="middle">30</text>
<text x="477.6" y="413" text-anchor="middle">40</text>
</g>
<g fill="none" stroke-width="22.5" stroke-linejoin="bevel" transform="scale(0.1)">
<path stroke="#c0c0c0" stroke-width="18" d="M921 8990h1M974 8990l1-268l1 268h3M981 8990v-621h2l2-71l2-59l1-175l2-119l2 294l1-476l2-31l2-103l2-91l1-194l2 65l2-193l1-96l2-12l2-146l2-83l1-82l2-30l2-101l1-77l2-47l2-69l2-55l1-60l2-63l2-28l1-69l2-34l2-65l2-47l1-22l2-39l2-35l1-44l2-25l2-29l2-23l1-26l2-28l2-19l1-15l2-27l2-24l2-16l1-12l2-22l2-17l1-15l2-9l2-9l2-38l1 10l2-14l2-15l1-7l2-17l2-5l2-25l1 9l2-16l2-1l1-16l2-10l2 7l2-17l1 5l2-10l2 4l1 6l2 2l2-10l1 6l2-4l2 7l2 9l1-3l2 5l2 11l1 12l2 6l2 16l2 7l1 9l2 4l2 7l1 19l2 10l2 12l2 6l1 10l2 8l2 12l1 13l2 10l2 24l2 6l1 13l2 20l2 15l1 22l2 20l2 17l2 24l1 19l2 11l2 16l1 22l2 33l2 18l2 11l1 19l2 27l2 6l1 26l2 17l2 17l2 1l1 30l2 15l2 25l1-13l2 36l2-4l2 31l1 3l2 34l2-4l1 8l2 32l2-3l2 27l1 21l2 8l2 3l1 32l2 14l2 30l2-7l1-3l2 26l2 34l1-5l2 28l2 6h2l1 24l2 10l2 7l1 21l2-35l2 26l2-1l1 38l2 4l2 14l1 17l2 22l2-47l2 74l1-3l2 24l2-44l1 36l2 3l2 29l2 35l1-4l2 3l2 9l1-21l2 6l2 53l2 7l1-18l2 37l2 48l1-50l2-19l2 69l2-24l1 5l2 11l2 18l1 41l2-17l2 19l1-32l2 30l2 61l2-37h1l2 63l2-28h1l2-16l2 88l2-83l1 81l2 4l2 21l1-19l2-19l2 62l2 91l1-66l2-23l2 13l1 89l2-28l2-18h2l1 83l2-37l2-31l1 38l2-67l2 151l2-28l1 49l2-29l2-38l1 72l2-9l2-17l2-16l1 171l2-116l2-22l1 65l2-29l2-45l2 117l1-72l2 108l2-24l1 36l2-101l2 31l2 58l1-18l2 57l2 44l1 16l2-74l2 35l2-14l1 95l2-58l2-77l1 109l2-8l2-47l2-28l1 167l2-76l2 46l1 10l2 31l2-41l2-86l1 58l2-34l2 43l1-18l2 111l2-128l2 26l1 126l2 83l2-171l1 88l2 40l2-128l2 20l1 94l2-13l2 103l1-17l2-111l2 12l2 151l1 38h2l2-19l1-170h2l2 116l2 116l1-178l2 14l2 83l1-68l2 87l2-87h1l2 68l2 130l2-148l1-17l2 140l2 80l1-29l2-156l2 81h2l1-43l2-19l2-37l1 99l2 24l2-105l2 81l1-81l2 38l2-19l1 62l2 135l2-135h2l1-43l2 67l2 267l1-267l2-86l2 86l2-67l1 118l2-75l2 49l1-25h2l2-105l2-18l1 77l2 190l2-64l1 101l2-248l2 147l2 31l1 267l2-353h2l1-71l2 190l2-119l2-49l1 24l2 111l2-178l1 92l2 86h4l1 156l2-156l2 70l1-37l2 175l2-208l2-31l1-80l2 144l2-33l1 33l2-211l2 92l2 26l1 29h2l2 31h1l2-60l2-26l2 353l1-197h2l2-156l1-25l2 51l2 29l2-29l1 268l2-319l2 25l1 119l2 123l2-86l2-101l1 101l2-37l2 37l1-70l2 33l2-211l2 334l1-45h2l2 45l1-86l2-37l2 123l2-123l1 123h2l2-187l1 142l2-171l2 60l1 111l2-78l2 391l2-313l1 313h2l2-354l1-130l2 93l2 234l2-327h1l2 171l2-111l1 111l2 45l2-45l2-78l1-144l2 51l2 171l1 45h2l2-86l2 86h1l2 182l2-227l1 97l2-138h2l2-101l1 101l2 86l2-123l1 391l2-313l2 45l2 182l1-227h2l2-111l1 33h2l2 37l2 86h1l2-242l2 510l1-354l2-70h2l2 267l1-111l2 182h2l1-182l2-86l2 86l2-86h1l2-130l2 268l1 130l2-182l2 535l2-722l1 239l2-239l2 298l1 71l2-182l2 52l2-97l1-41l2 86l2-123l1 502l2-379l2 111l2-197l1-37l2 37l2 138l1 130l2-305l2 175h2l1-97l2 227l2-338l1 267h2l2-156l2 227h1l2-227l2 45l1 52l2-97l2 156l2 71h1l2 197l2-111l1-268l2 379l2-424l1 45h2l2 182l2-130h3l2-52h1l2 111l2-156h2l1-41l2 138l2-97l1 156l2-234l2 78l2 97l1 59l2-298l2 142l1-111l2 70l2 197l2-156l1 227h2l2-268l1 197l2-111l2 182l2-130l1 59l2-59l2-97l1 227l2-182l2-45l2-111l1 267h2l2 71l1 86l2-313l2 45l2 52l1 216l2-157l2-59l1 59l2 157l2 111l2-197l1-71l2 71l2 86l1 111l2-197l2-182l2 182l1 86l2-86l2-71l1-111h2l2 52l2 130l1-130l2 130l2-182l1 535l2-580l2 97l2 216l1-216l2 216l2-354l1 86l2 111l2-59l2 59l1 157h2l2-216l1 59l2 71l2-182l2-123l1 123l2 268l2-157l1 157l2-157l2-197l2 889l1-803l2 182l2-71l1-59l2-52l2 52l2-97l1 848l2-268l2-353l1-71l2-59l2 327l2 424l1-692l2-197l2 197l1 71l2-305l2 234l1 157h2l2-157l2-111l1 111l2 268l2-465l1 354h4l2-216h1l2 216h2l1-86l2-71l2-111l2 379l1-197l2 86l2-86l1 197l2-465l2 354l2-268l1-123l2 234l2 157h1l2-268l2 182l2-71l1-59l2-52l2 268l1 267h2l2-267l2-86l1 353l2-353h2l1-227l2 580l2-267l2-86l1-130l2 130l2 86l1 267h2l2-424l2 424l1-424l2 157l2-86l1-71l2 71h2l2 353l1-267h2l2-157l1 71l2 86l2-268l2 379l1 156l2-156l2-535l1 424l2-216l2 216l2-86l1 86l2-268l2 268l1-86l2-227l2 580l2-353l1 621l2-621l2 621l1-268l2-424l2-59l2 327l1-197l2 353h2l1-424l2 692l2-692l2 157l1 111l2-379l2-45l1 424l2-111h2l2-268h1l2 52l2 59h1l2 157l2 111h1l2-111h2l2-86l1 197l2-111l2 267l1-156h2l2-268l2 157h1l2 111l2-111l1 535h1M2279 8990l1-535l2-86l1 197l2-197l2-182l1 268l2-86l2 86l2-157l1 424l2 268l2-535l1 535l2-621l2 86l2-216l1 216l2-157l2 424l1-156l2-268h2l2 71l1 86l2-86l2 197l1 424l2-535l2-86l2 197l1-197l2 86l2-216l1 751l2-692l2 71h2l1 197l2 156l2-156l1 156l2-267l1 535M2353 8990l1-535h1l2-86l2-182l1 803M2361 8990l1-535h4l1 267l2 268l2-535l1 267l1 268M2375 8990l1-751l2 216l1-157l2 268l2-111l1 111h2l2-111l2 535l1-621l2-182l2 268l1 111l2-327l2 216l2 535l1-424l2 156h2l1-424l2 71l2 353l2 268l1-535l2 111l2-379l1 535l2-424h2l2 268l1-327l2 483l2-353l1 86h6l1 111l2-197l2-130l1 327h2l2-268l1 71l2 197l2 156h2v268M2457 8990l1-535l2 267l1-535l2 268l2 267l2-156h1l2-268l2 268l1-111l2-86h2l2 197l1 424l2-751l2 483l1-483l2 483l2-353l2 197l1 424l2-535l1 535M2497 8990v-268h4l2-353l1 353l2-156l2-111l1 267l2 268l2-424l2 156l1-156h4l1 156l2-156h2l2-111l1-86l2 353l2-156l1 424l2-535l2 535l2-424l1 424l2-424l2-111l1 267l2-156l2-197l2 353l1-424l2 268l2-197l1 353l2-156l1 424M2562 8990l1-535l1 267l2-353l2 197l1 424l2-268l2-353l2 353h1l2-424l2 268h1l2 424l2-268h2l1-156l2 424l2-424l1-111l2-157l2 268l2 156h1l2 268l2-424l1 424h5M2611 8990l1-424l2 156l1 268M2617 8990v-424h2l2-197l2 197h1l2 156l2-353l1 197l2-197l2 197l1-268l2 424l2-353l1 621M2640 8990l1-268l2-267l1 535M2646 8990v-621l2 353h2l2-156h1l2-111l2 267l1-156h2l1 424M2664 8990l1-424h2l1 424M2670 8990h0l2-424l2 156l2-156h1l2 156l2-156l1 156l2-424l2 424l2 268h5l1-268l2-580l2 227l2 86l1-86l2 353h2l1-156h6l1 156l1 268M2716 8990l1-268l1-156l1 424M2721 8990l1-424l2-268v692M2726 8990l1-535l2-157l1 268l2 424h2l2-268h1l2-267l2 267l1-424l2 692h1M2747 8990h1l1-268h2l2 268l1-268l1 268M2757 8990l1-268l2 268l1-268l2-156l2-197l1 197l2 156l2-267l2 267l1 268h2l2-621l1 621l2-621l2 621h2l1-424l2-111l2 535l1-535l2 111l2 156l2 268h1l2-268l2-267l1 535h2l2-268l2 268l1-424h4l1 156l2 268h2l2-535l1 535h2l2-692l1 424l1 268M2829 8990l1-621l1 621M2832 8990h1l2-268h3l2-156l1 424M2843 8990v-751l2 751h2l2-424h1l2 424l2-268l1 268h2l2-268l2-156l1 156l2 268l2-424h1l2 424l2-268l2 268l1-424h2l1 424M2879 8990h2l2-268h2l1 268l2-424l2-197l1 621h1M2894 8990h3l1-535h4l1 535M2904 8990h1l2-424l2 424h3l2-424l1 156l2 268h1M2920 8990h1l1-692l2 692l2-621l1 197l2 156l1 268M2932 8990l1-424l1 156l2-156l2 424h1l2-424l2 424h6M2951 8990h1M2954 8990h6l2-424l1 156l1 268M2966 8990l1-268h2l1 268h5M2976 8990l1-535l2 267l2-267v535M2983 8990h1l2-268l1 268h1M2990 8990h1l2-424l1 424l2-424l2 156h1l2 268h1M3004 8990h3M3009 8990l1-535l1 535M3014 8990h6l2-268v268M3024 8990l1-424l1 424M3028 8990h2l2-268h2l1-156l2 156h2l1 268M3041 8990h2M3045 8990l1-268l1-267l1 535M3052 8990v-268l2 268l2-535l1 535M3060 8990h4M3065 8990h1l2-268l2 268h0M3072 8990h1l2-692l1 692M3079 8990l1-424l1 424M3084 8990h4M3093 8990l1-268v268M3103 8990h2M3106 8990h1l2-268l2 268l1-268l1 268M3115 8990h1l2-424v424M3120 8990h4M3127 8990h2M3130 8990l1-268h2l1 268M3137 8990h3l2-268v268M3148 8990h0l2-268h2l1 268M3156 8990h9M3166 8990l1-268l1 268M3172 8990h0l2-268l2 268h1M3180 8990l1-268l2 268l1-268l2-267l1 535M3190 8990l1-268l1 268M3196 8990v-268l1 268M3202 8990h5M3209 8990l1-268h2l1 268h1M3218 8990h4l2-268l1 268l2-268l2 268h1M3231 8990h5l1-268l1 268M3245 8990h1l2-268l1 268M3250 8990l1-268l2-156l2 156v268M3257 8990h2M3261 8990h3M3267 8990h1l2-268l2 268h6M3283 8990l1-268l1 268M3286 8990h2M3290 8990l1-268h1l2-156l2 424h1M3298 8990h2M3302 8990h1M3305 8990h2M3310 8990h1l2-268l2 268h2M3321 8990h3M3329 8990h5M3336 8990h1l2-268v268M3341 8990h2M3345 8990h1M3348 8990h3M3357 8990v-268l1 268M3367 8990l1-424l1 424M3375 8990h4M3381 8990h1M3386 8990l1-268l1 268h3M3392 8990h4M3401 8990l1-424l1 424M3406 8990h2M3411 8990h2M3415 8990h1M3418 8990h2M3423 8990h4"/>
<path stroke="#000" d="M993 8990h3M998 8990l1-621l1 353l2 268l2-424l1-424l2 313l2-455l2-29l1-97l2 97l2-208l1-134l2-53l2-38l2-225l1-47l2-22l2-58l1-90l2-5l2-114l2-42l1-53l2-71l2-23l1-67l2-18l2-80l2-42l1-14l2-89l2-26l1-58l2-62l2-60l2-69l1-54l2-51l2-47l1-35l2-41l2-27l2-27l1-41l2-18l2-13l1-37l2-15l2-15l2-29l1-12l2-15l2-14l1-14l2-17l2-36h2l1-3l2-27l2-9l1-18l2-7l2-21l1-6l2-12l2-9l2-8l1-8l2-5l2-7l1-5l2-10l2-9l2-6l1 4l2-9l2-10l1 2l2-3l2-4l2-2l1-11l2 7l2-1h1l2-1l2 3l2-11l1 6l2 3l2-6h1l2 3l2-8l2 13l1-11l2-4l2 4l1 5l2 4l2-5l2-3l1 3l2 3l2 2l1-9l2 6l2-6l2 5l1 6l2 2l2-5l1 5l2 9l2-5l2-3l1 8l2-1l2 20l1-4l2 3l2 1l2 3l1 4l2-2l2 3l1 2l2 10l2 5l2-6l1 9l2-8l2 18l1-2l2-8l2 22l2-6l1 3l2 6l2-6l1 12h2l2 1l2 2l1 5l2 9l2 3l1 10l2-12l2 12l2 9l1-5l2 10l2-1l1 5l2 1l2 6l2 3l1-1l2 8l2 11l1-4l2 12l2 4l2 3l1 5l2 11l2-14l1 9l2 3l2 11l2 3l1-9l2 1l2 25l1 1l2 4l2 3h1l2 12l2 11l2 1l1 16l2-8l2 5l1 8l2 18l2-23l2 27l1-16l2 9l2 11h1l2 7l2 7l2 2l1 4l2 16l2 3l1-4l2-9l2 22l2 4l1-3l2 5l2 23l1-22l2 29l2-3l2-2l1 3l2 2l2 14l1 1l2 4l2-8l2 6l1-2l2 10l2-2l1 4l2-5l2 18l2-2l1 12l2 2l2 5h1l2 12l2-17l2 14h1l2 18l2-13l1 23l2-11l2 2l2 5l1-4l2 8l2 13l1-6l2 1l2 3l2-3l1 12l2 23l2-17l1 7l2 4l2-3l2 14l1-4l2 5l2 6l1 1l2-4l2 10l2-2l1 10l2-13l2 7l1 17l2-5l2 11l2-11l1 4l2 15l2 10l1-10l2-3l2 7l2 23l1-14l2-13l2 27l1-5l2 18l2-6l2-18l1 14l2-8l2 27l1-7l2-6l2 8l1 10l2-4l2 22l2-6l1-1l2 4l2 10l1 9l2 8l2-16l2 6l1 1l2-7l2 17l1 11l2-20l2-2l2 21l1-4l2 15l2-22l1 20l2-5l2 7l2-3l1 8l2 14l2 3l1-1l2-15l2 29l2 12l1-10l2 20l2-9l1 12l2-12h2l2 4l1 29l2-31l2 19h1l2 19l2-1l2-15l1 14l2-9l2-2l1 1l2 9l2 17l2-3l1 14l2-6l2 4l1-4l2-5l2 2l2 1l1 4l2 31l2 8l1-33l2 7l2 7l2 15l1-2l2 12h2l1-15l2 6l2 29l2-27l1 20l2 5l2-13l1 8l2-1l2-10l2 22l1 28l2-22l2-12l1 17l2 21l2 1l2-10l1 30l2-23l2-14l1 16l2 9l2-21l2 9l1 30l2-29l2 18l1-12l2 21l2-15l2 3l1-10l2 7l2 27h1l2 9l2-6l2 12l1-21l2-10l2 49l1-49l2 36l2-13l1 12l2 2l2 27l2-12l1 10l2-19l2 6l1-1l2 33l2-28l2 6l1 5l2-6l2 9l1-5l2-15l2 35l2 5h1l2-11l2-1l1 10l2-3l2 9l2-1l1 12l2-4l2 3l1 31l2-34l2 22l2-26l1 6l2-15l2 71l1-36l2 26l2-28l2 2l1 3l2 13l2 3l1-3l2 2l2 18l2 4l1 12l2-20l2 16l1-22l2 18l2 9l2-6l1 26l2-30l2-5l1 22l2 13l2 21l2-19l1-3l2 18l2 6l1 4l2-22l2 24l2-15l1-4l2-15l2 25l1-14l2 4l2-3l2 28l1-2l2-17l2 23l1 16l2-17l2 13l2 7l1-11l2-11l2 37l1-24l2-10l2 4l2-2l1 7l2 7l2 21l1 11l2-31l2 51l2-29l1 17l2 58l2-62l1-4l2 37l2-47l2 34l1-27l2 15l2-19l1 40l2-20l2-1h1l2 51l2-75l2 8l1 15l2-7l2 19l1-4l2 5l2 62l2-8l1-42l2 15l2 9l1-27l2 29l2 2l2 9l1-4l2-32l2 19l1 6l2-5l2 1h2l1 31l2-28l2 26h1l2-18l2-5l2 32l1-35l2 46l2 3l1-56l2 82l2-43l2 8l1-22l2-5l2 31l1 3l2-15l2-7l2 62l1-65l2 49l2 15l1-63l2 29l2 8l2-30l1 41l2-1l2-8l1 12l2-25l2 22l2-13l1 8l2 41l2-37l1 29l2-37l2 20l2 5l1-5l2-17l2 33l1-20l2 63l2-61l2 6l1 17l2-4l2 35l1-43l2 57l2-53l2-12l1 15l2 28l2-10l1 6l2-6l2-21l2 69l1-64l2 31l2 7l1-10l2 13l2 23l2-24l1 24l2-44l2 50l1-14l2-10l2 13l2 30l1-20l2-54l2 5l1 15l2-1l2 25l2 5l1-10l2-38l2 41l1-11l2-6l2-8l1 5l2 57l2 51l2-59h1l2-26l2 20l1 21l2 6l2 19l2-64l1 36l2 7l2-19l1 17l2 2l2-54l2 21l1 24l2-3l2 42l1-41l2 41l2 6l2-11l1 5l2 40l2-72l1 126l2-126l2 19l2 23h1l2 15l2-40l1 38l2-34l2-23l2 25l1 15l2 49l2 21l1-53l2-4l2-43l2 66l1-17l2-25l2 62l1-35l2 35l2-13l2-43l1 61l2-18l2 2l1 16l2-27l2 34l2-51l1 56l2-52l2 11l1 38l2-38l2-9h2l1 31l2 19l2 17l1-5l2-64l2-25l2 102l1-3l2-55l2 5l1-18l2 46l2 27l2-62l1 47l2 34l2-60l1 29l2-13l2-50l2 60l1 62h2l2-20l1-54l2-5l2 43l2-96l1 46l2 83l2-41l1 41l2-44h2l2 65l1-32l2-50l2-5l1 66l2-66l2-12l1 9l2 23l2-10l2 45l1-22l2-8l2 71l1-47l2-19l2-13l2 24l1 5l2-61l2 53l1 3l2 116l2-88l2 12l1-21l2-35l2 2l1 69l2-101l2 54l2 80l1-63l2 27l2-52l1 49h2l2-15l2-6l1-3l2 33l2 10l1-43l2 9l2 15l2 67l1-73l2 15l2 70l1-63l2-16l2 19l2-76l1 54l2 82l2-47l1 35l2-18l2 11l2-57l1-41l2 91l2-14l1 21l2 11l2-52l2-10l1 47l2-3l2-4l1 7l2-20l2 20l2-10l1 48l2-58l2-14l1 96l2-36l2-60l2 38l1-54l2 88l2 50l1-115l2 7l2 82l2-16l1-49l2 37l2-51l1 67l2-77l2 53l2-3l1 27l2-12l2-38l1 84l2-65l2-15l2 34l1 12l2-42l2 3l1 39l2 107l2-127l2 77l1-110l2 78l2 5l1 27l2-144l2 144h2l1-117l2 172l2-112l1 12l2 13l2-21l1 44l2-83l2 39l2-12l1 38l2-46l2 64l1-72l2 41l2 49h2l1-41l2 5l2 27l1 5l2-66l2-16l2 58l1 74l2-10l2-94l1 40l2 4l2-35l2 64l1 26l2-103l2 53l1-19l2-125l2 79l2 33l1 134l2-68l2-43l1 48l2-44l2-35l2 101l1-145l2 84h2l1 19l2 47l2-111l2-4l1 40l2-40l2 78l1-24l2 90l2-50l2-45l1-5l2-9l2 14l1 39l2-25l2-33l2 64l1 21l2-16l2-16l1-74l2 40l2 95l2-29l1 149l2-47l2-73l1-17l2-33l2-45l2 5l1 50l2-10l2 63l1-36l2-81l2 48l2-39l1 183l2-188l2 34l1 16l2-50l2 71l2 29l1 38l2-99l2 56l1 50l2-56l2 36l2-106l1 100l2-53l2-22l1 33l2-67l2 61l2 88l1-52l2 66l2-90l1 62l2 14l2-82l1 119l2-101l2-18l2 127l1-91l2-84l2 60l1-12l2 75l2-45l2-7l1 66l2 46l2-168l1 94l2 50l2-88l2 81l1-86l2 30l2 41l1-34l2-88l2 88l2 6h1l2-6l2-66l1 100l2 38l2-38l2-41l1-12l2 39l2 76l1-47l2-29l2-20l2 96l1-69l2 77l2-40l1-30l2-21l2 21l2 15l1-36l2 59l2-52l1 68l2-16l2-38h2l1-14l2 21l2 119l1-72l2 113l2-88l2 37l1-187l2 141l2-24l1 24l2-16l2 8l2-83l1 36l2 91l2-91l1 73l2-66l2 66l2-81l1 99l2-44l2-103l1 187l2-84l2-40l2 84l1-27l2-57l2 135l1-119l2 129l2-97l2-111l1 147l2-120l2-33l1 33l2 68l2-16l2 152l1 50l2-218l2 16l1 78l2-54l2-40l2 16l1 8l2 24l2 36l1-27l2 47l2 10l2-143l1 153l2-67l2 111l1-111h2l2-64l1 142l2-95l2 54l2 20l1-20l2-70l2 168l1-108l2-36l2 76l2 68l1-47l2-137l2 184l1-117l2 9l2-36l2 18l1 126l2-57l2-51l1 73l2-63l2-62l2 160l1-78l2-20l2-19l1 93l2-44l2 21l2 101l1-206h2l2 84l1-100l2 24l2 66l2-57l1 189l2-122l2 33l1-33l2-58l2 139l2-81l1-40l2 51l2 227l1-182l2-76l2-10l2 10l1-29l2 171l2-162l1 134l2-218l2 75l2 105l1-35l2 12l2 35l1-47l2-41l2 53l2 118l1-43l2-138l2 74l1 24h4l2-35h1l2 103l2-115l1 115l2 15l2-171l2 156l1 15l2-118l2 23l1-105l2 216l2-134h2l1 151l2-233l2 171l1-14h4l2-27l1-13l2 54l2 62l1-242l2 152l2-114l2 101l1-37l2 78l2 79l1-93l2 28l2 83l1-198l2 35l2-12l2 24h5l1 68l2 102l2-170l2 13l1 103l2 54l2-116l1-78l2 175l2-83h2l1 164l2-232l2 13l1-60l2 163l2 17l2-157l1 140l2-103l2-13l1-47l2 130l2-57l2 144l1-157l2-181l2 194l1 125l2 38l2-149l2 93l1-107l2-26l2 40l1 43l2 87l2-87l2 68l1 19l2-157l2 55l1 83l2 38l2 43l2-43l1-38l2 19l2-87l1 16l2-31l2 31l2-59l1-27l2 157l2-54l1-33l2 50l2 99l2-164h1l2 102l2 137l1-97l2-142l2-14l2 79l1 77l2-278l2 300l1-99h2l2 203l2-268l1 15l2 50l2 99l1-149l2-29l2 29l2 33l1 73l2 43l2 24l1-157h2l2 111l2 22l1-133l2 208l2-137l1 40l2-127l2 173h2l1-157l2 133l2-133l1 34l2 18l2 105l1-24l2 24l2 111l2-178l1 43l2 24l2-105l1 327l2-395l2 50l2 345l1-222l2-123l2 123l1 51l2-191h2l2 94l1-21h2l2 43l1-22l2 97l2-75l2 104l1-80l2 111l2-31l1-166l2-71l2 157l2 111l1-234l2 174l2-191l1 140l2-123l2 77l2 190l1 37l2-321l2 140l1-105l2 156l2-26l2 26l1-137l2 166l2-147h1l2 211l2-267l2 99l1-62l2 197l2-111h5l2 51l1-26l2 156l2-101l1-237l2 237l2-104h2l1-22l2 126l2-185l1-35l2 191l2-118l2 92l1 55l2-126l2-21l1-19l2 19l2 445l2-267l1-86l2 55l2-166l1 40l2 157l2-60l2-75h1l2 24l2 25l1-49l2-43l2 211l2-33l1-197l2 166h2l1-55l2 242l2-45l2-197l1 119l2-190l2 71l1 55l2 64l2-93l2 29l1-220l2 284l2-33l1-135h2l2 402l1-353h2l2 156l2-130l1 29l2 31h2l1-86l2-25l2 80h2l1 31l2-86l2-25l1 80l2-80l2 144l2-168l1-22l2 126l2-80l1-24l2 168l2-33l2-86l1 353l2-234l2 78l1-78h2l2-93l2 93l1 78l2-308l2 197l1-60l2-51l2 378l2-445l1 445l2-327l2 29l1-104l2 135l2 70l2-130l1 130l2 197l2-197l1-286l2 327l2-78l2-190l1 268l2-308l2 267l1-101l2 187l2-45l2-142l1-80l2 222l2-222l1 267l2-216l2 93l2-33l1 33l2-119l2 242l1-291l2 168l2 78l2 45l1-123h2l2 78l1-111l2 111l2-142l2 187l1-242l2 353l2-267h1l2 70l2 41l2-111l1 208l2-268l2 29l1 64l2 123l2 52l2-239l1-55l2 156l2-181l1 51l2 216l2-123h2l1 658l2-535l2-187l1 187l2-267l2 51l1 130l2-101l2 187l2-45l1 45l2 52l2-208l1 70h2l2-70h2l1 338l2-227l2-78l1-119l2 242l2 268l2-354l1 41l2-362l2 251l1-31l2 187l2-45l2 227l1-268l2-181l2 449l1-268l2-70l2 111l2 97l1-208l2 156l2 111l1-353l2 424l2-268h2l1 354l2-157l2-327l1 268l2-97l2 156l2-156l1-197l2 119l2 78l1-78l2 502l2-424l2 227l1-182l2 535l2-156l1-424l2-171l2 93l2 123l1-187l2 187l2-45l1 156l2 157l2-268l2-123l1 391l2-268l2 111l1-353l2 294l2-97l2-111v959"/>
<path stroke="#f00" d="M989 8990h3l1-268l2 268h2l2-268h1l2-483l2 59l1-59l2 59l2-59l2-175l1-33l2-178l2-106l1-140l2 33l2-102l2-244l1-10l2-56l2-83l1-57l2-30l2-110l2-7l1-95l2-29l2-42l1-25l2-59l2-42l2-78l1-55l2-25l2-68l1-45l2-43l2-56l2-56l1-45l2-67l2-41l1-50l2-39l2-36l2-26l1-31l2-17l2-31l1-16l2-26l2-16l2-29l1-21l2-10l2-17l1-8l2-21l2-20l2-10l1-8l2-21l2-10l1-18l2-11l2-21l1 4l2-18l2-5l2-4l1-7l2-11l2-11l1-5l2-11l2-3l2-10l1 3l2-9l2-4l1-6l2 1l2-7l2-2l1 3l2-6l2 4l1-9l2-5l2 6l2-5l1 10l2-5l2-8l1 7l2-6l2 7l2 7l1-7l2-3l2-3l1 8l2-6l2-5l2 1l1 12l2-5l2 4l1-3l2 8l2-4l2 6l1-6l2-2l2-1l1 9l2 1l2-2l2 1l1 1l2-3l2 16l1 7l2-6l2 3l2-3l1 9l2 1l2 10l1-5l2 13l2-4l2 4l1-3l2 2l2 8l1 2l2-1l2 17l2-4h1l2-1l2 9l1 8l2-6l2 4l2 11l1 1l2-2l2 6l1 4l2 2l2 5l2 3l1 3l2 8l2 3l1-1l2 12h2l2 6h1l2 2l2 5l1-1l2 7l2-1l2 7l1 9l2-4l2 2l1 9l2 11l2 4h2l1-2l2-1l2 12l1-2l2 13l2 6l1-4l2 16l2-5l2 3l1 6l2 1l2 5l1 16l2 8l2-9l2 16l1-4l2 10l2 4l1 1l2 16l2-8l2 4l1 1l2 17l2-6l1 8l2-2l2 17l2 2l1 4l2 1l2-1l1 3l2 7l2-3l2 22l1-14l2 16l2-10l1 10l2 2l2-2l2 9h1l2 6l2 5l1-1l2 5l2-8l2 18l1 8l2-3l2-2l1-5l2 16l2-2l2 3l1 2l2-1l2 13l1 5l2-13l2 15l2 8l1-7l2 12l2 10l1-21l2 11l2 12l2-5l1 3l2 7l2 3l1 2l2-2l2 8l2-1l1 5l2 3l2 3l1 4l2 5l2-3l2 12l1 5l2-9l2 14l1-13l2 11l2 7l2 7l1 1l2-12l2 22l1-3l2 6l2-3h2l1 18l2-5l2-14l1 18l2 5l2-6l2-2l1 7h2l2 8l1-6l2 14h2l1 23l2-17l2 2l2-8l1-6l2 24l2 8l1-2l2 12l2 1h2l1-9l2 11l2 10l1 6l2-9l2 18l2 2l1-14l2 8l2-10l1-4l2 6l2-1l2 11l1 7l2-1l2 14l1-5l2 22l2-8l2 1l1-5l2-4l2 13l1 12l2 13l2-26l2 8l1 7l2 4l2 9l1-13l2 34l2-30l2 12l1-5l2 13l2-6l1 15l2-3l2-6l2 11l1 16l2-12l2-1l1-1l2 19l2-6l2 9l1 14l2-6l2 3l1-6l2-2l2-8l2 18h1l2 4l2-6l1 21l2-11h2l2 38l1-34l2 6l2 4l1 8l2 3l2 1l2 14l1-11l2 6l2 14l1-15l2-11l2 15l2-3l1 10l2-11l2 28l1-13l2 14l2-8l2 4l1-22l2 9l2 28l1 2l2 10l2-4l2 4l1-5l2 7l2-14l1-2l2 18l2-17l2-1l1 18l2 21l2-28l1 7l2 9l2 16l1-20h2l2 34l2-10l1-8l2 18l2-9l1 11l2 28l2-33l2 21l1 11l2-13l2 16l1-30l2 24l2 1l2 1l1 20l2 5l2-27l1 31l2 5l2-33l2-4l1 18l2-16l2 17l1 20l2-18l2 1l2 4l1-4l2 8l2 18l1-3l2-9l2 8l2 28l1-29l2 33l2-41l1 6l2 3l2 18l2 35l1-56l2 25l2 8l1 18l2-11l2-7l2 23l1 5l2-12l2 7l1-10l2 6l2 9l2-6l1 21l2 22l2-38l1-16l2 27l2-2l2-9l1 27l2-15l2 16l1-4l2 51l2-45l2-8h1l2 18l2 9l1-8l2 2l2-15l2 6l1-1l2 23l2-10l1 17l2 4l2-7l2 13l1 13l2-9l2-9l1-10l2 27l2-28l2 10l1 25l2 5l2-17l1 3l2-8l2 18l2 31l1-16l2 3l2-15l1 8l2-30l2 48l1 4l2-11l2 1l2-14h1l2 5l2 34l1-18l2 33l2-23l2-19l1 40l2-38l2 14l1-19l2 51l2-16l2 9l1-16l2-8l2 57l1-34l2-28l2 25l2-16l1 6l2 10l2-28l1 30l2 5l2-13l2 19l1-35l2 10l2 19l1 4l2-10l2-7l2 13l1-14l2 41l2 16l1-11l2-1l2-33l2 23l1-19l2 6l2 41l1-43l2-5l2 34l2-12l1 31l2-6l2-34l1 13l2-14l2 3h3l2-16l2 38l1-13l2-17l2 21l2 8l1 10l2-16l2-1l1-12l2 15h2l2 44l1-12l2-28l2 39l1-48l2 39l2-9l2 17l1-8l2-8l2-7l1 4l2-13l2-1l2 5l1 43l2-36l2-9l1 74l2-51l2 19l2-36l1-12l2 25l2 32l1-14l2-3l2-16l2 17l1-22l2 11l2 33l1 9l2-46l2 45l2-7l1-12l2-4l2 7l1-4l2 13l2 5l1 13l2-3l2-16l2 12l1-3l2 17l2-42l1-5l2 67h2l2-48l1 36l2 21l2-15l1-31l2 4l2 13l2 17l1-48l2 56l2-3l1 23l2-45l2-2l2 56l1-58l2-2l2 26l1 5l2-40l2 45l2-20l1 11l2-15l2-3l1-21l2 73l2-83l2 81l1-14l2-13l2 9l1-13l2 43l2-19l2 22l1 20l2-33l2-39l1 68h2l2 13l2-64l1 63l2-12l2-2l1-27l2-8l2 30l2 1l1-37l2-17l2 44l1-23l2 39l2-29l2-6l1-4l2-3l2 43l1-7l2 24l2 17l2 5l1-65l2 56l2-46l1 54l2-8l2-70l2 45l1 26l2-31l2 26l1-1l2 9l2 34l2-56l1-4l2 31l2-36l1 25l2 20l2-4l2-35l1-20l2 83l2-19l1 7l2-2l2-17l2 2l1 10l2 39l2 6l1-26l2-42l2 62l1 4l2-55l2 66l2-46l1 18l2 30l2-34l1-56l2 55l2-14l2-30l1 24l2 14l2 4l1 35l2-13l2 13l2-9l1 13l2-32l2-33l1 8l2 42l2-11l2 15l1-2l2-15l2-4l1-5l2 35l2-39l2 45l1-41l2 24l2 13l1 60l2-86l2 24l2 19l1 23l2 7l2-24l1 15l2-75l2 41l2 11l1 25l2-23l2 57l1-66l2 39l2-20l2 47l1-55l2 55l2-55l1 21l2 4l2-38l2 43l1-100l2 80l2 27l1 46l2-49l2-34l2 93l1-102l2 37l2-20l1 65l2-10l2 17l2-12l1-47l2 20l2 52l1-23l2-29l2 27l2-17l1 4l2-4l2-3l1 5l2 17l2 10l2 24l1-44l2 60l2-16l1-31l2 89l2-89l2-48h1l2 82l2-86l1 83l2-21l2 5l2 5l1 8l2-31l2 13l1 24l2-9l2-35l2 72l1-67l2 39l2 13l1-16l2 19l2-30l1 45l2-9l2-71l2 54l1 70l2-70l2-11l1 46l2-59l2 71l2-79l1-20l2 55l2 23h1l2-55l2 10l2 69l1-12l2 59l2-91l1-20l2 81l2-7l2-49l1 39l2 10l2 23l1-29l2 43l2-86l2-11l1 60l2-3l2-16h1l2-15l2 6l2 18l1-30l2 24l2 33l1-4l2-19l2 29l2-20l1 38l2-18l2-97l1 87l2-13l2 41l2-4l1 38l2 4l2-92h1l2-3l2 76l2 23l1-49l2 18l2-7l1 7l2-55l2 51l2-113l1 195l2-93l2 58l1-20l2-27l2-18l2-40l1 13l2 17l2 3l1 11h2l2 14l2-45l1 24l2 72l2-51l1 4l2 116l2-81l2 17l1-29l2-23l2-35l1 104l2-50l2-87l2 124l1-29l2-82l2 59l1 88l2-92l2-15h2l1 15l2 23l2-45l1 78l2-63l2 85l1 104l2-130l2-21l2 12l1 54l2-97l2 65l1 18l2-112l2 68l2-4l1 52l2-48h2l1 87l2-70l2-45l2 49l1-4l2 31l2-48l1 44l2-44l2 143l2-90l1 9l2-105l2 64l1 5l2-9l2 81l2-126l1 24l2 62l2-89l1 108l2-56l2-4l2-45l1 100l2-14l2-14l1 75l2-154l2 133l2-21l1-43l2 19l2 147l1-86l2-61l2 66l2-80l1-5l2 43l2 15l1-10l2-29l2-36l2 41l1 14l2-5l2 10l1 21l2-6l2-92l2 77l1 103l2-98l2-29l1 72l2-33l2-20l2 101l1-101l2 26l2-16l1 55l2 36l2-81l2 33l1-27l2 33l2 30l1-131l2 101l2-73l2 40l1 69l2-36l2-92l1 141l2-55l2 23l2 81l1-176l2 140l2-38l1 52l2-46l2-127l2 173l1-64l2 168l2-219l1 122l2-127l2 11h2l1 10l2 6l2-70l1 75h2l2 36l1 12h2l2-24l2 43l1 7l2-13l2-61l1 110l2-104l2 6l2 105l1-22l2 38l2-45l1 7l2-137l2 159l2-75l1-47l2 23l2 30l1 85l2-72l2 41l2-60l1 123l2-111l2 34l1 53l2-39l2-90l2 76l1-27l2 20l2 44l1-83l2 83l2-77l2 135l1-66l2-69l2 135l1-58l2-58l2 43l2-56l1-101l2 65l2-12l1 89l2-71l2 43l2 35l1-28l2 59l2-23l1-15l2 15l2 64h2l1-107l2 35l2 31l1-91l2 75l2-88l2 128l1-32l2-83l2 53h1l2 15l2-36l2-32l1 83l2-8l2-43l1 109l2 48l2-98l2 50l1-95l2 104l2 9l1-84l2-15l2 129l2-136l1-34l2 88l2 25l1-25l2-24l2 76l2-99l1 109l2-94l2-7l1 31l2-39l2 39l2-53l1 95l2 18l2-147l1 95l2 8l2-90l1 116l2-88h2l2 70l1 56l2-80l2 194l1-254l2 21l2-7l2 126l1-64l2 8l2 9l1-49l2 86l2-28l2 38l1-64l2 44l2-27l1 78l2-60l2 49h2l1-58l2-26l2 54l1 63l2-33l2-108l2 216l1-224l2 96l2-10l1-86l2 24l2-32l2 168l1-128l2 8l2 157l1-91l2-39l2 9l2-9l1 60l2 208l2-239l1-47h2l2 18l2 70l1-97l2 66h2l1 146l2-115l2-97l2 18l1 58l2-67l2 161l1-83l2-78l2 57l2 43l1 11l2 37l2-101l1-20l2 51l2 111l2-171l1 105l2-12l2 37h1l2-13l2 26l2-38l1-76l2-20l2 162l1-54l2-35l2 48l2-48l1-43l2 54l2 24l1-98l2-28l2 48l2 54l1-33l2-78l2 67l1 108l2 76l2-163l2 47l1-117l2 171l2-66l1-132l2 120l2 37l1-25l2-35l2-51l2 86l1-12l2-23l2 47l1 83l2-43l2-52l2 12l1-12l2 12l2 26l1-83l2 83l2 28l2 14l1 65l2-120l2 13l1 90l2-116l2-24l2 24l1 13l2-13h2l1 83l2-118l2 75l2 43l1-140l2 97l2 28l1-80l2-23l2 168l2-50l1-83l2-57l2 111l1 29l2-43l2-27l2 120l1-145l2 80l2 31l1-86l2-60l2 73l2 42l1-68l2 13l2-60l1 101l2 45h2l2-99l1-12l2 12l2 99l1 17l2-151l2 48l2 86l1-123l2 78l2 79l1-168l2 118l2 87l2-116l1 45l2-16l2-70l1-48l2 224l2-176l2 70l1-43l2 14l2-54l1 54l2 45l2 17l2-48l1 48l2-33l2-43l1 76l2-90l2 163l2-73l1-128l2 128l2-62l1 116l2-87l2 149l2-62l1-19l2-52l2 34l1-17l2-62l2 14h2l1 31l2-99l2 26l1-38l2 111l2-99l1 99l2-31l2-42l2-50l1 175l2-83l2 48l1-33l2-43l2 43l2 50l1 18l2-18l2 56h1l2-56l2 37l2-238l1 167l2 71l2-87l1 16l2 182l2-255l2 255l1-71l2-156l2-41l1 120l2 99l2-116l2-33l1 149l2-99h2l1-79l2 282l2-166l2 40l1-59h2l2-52l1 34l2-107l2 184l2-40l1-71l2 133l2-62l1 166l2-203l2 18l2 105l1-188l2-14l2 29l1 198l2-213l2 48l2 116l1-116l2 140l2-188l1 31l2 208l2-26l2-130l1 19l2-71l2 182l1-111l2-37l2 203l2-147h1l2-56l2 148l1-198l2 198l2-130l2-18l1 56l2 43l2-43l1 43l2-232l2 116l2 54l1-19l2 105l2-105l1 59l2 71l2 26l2-26l1-130l2 38l2-38h1l2 156l2-51l2-24l1-81l2 156l2-208l1 34l2 99l2-62l1 86l2-123l2 148l2 26l1-26l2-148l2 37l1 40l2-40l2 111l2-71l1-127l2 492l2-175l1-190l2 71l2 55l2-147l1 147l2-104l2 75l1 171l2-362l2 54l2 166l1-185l2 216l2-178l1-90l2 133l2-99l2 18l1 249l2-64l2-126l1 190l2-33l2 70l2-101l1-185l2 216l2-135l1 75l2-239l2 102l2 230l1 78l2-142l2 142l1-171l2-51h2l2 80l1-80l2 222l2-41l1-205l2 135l2 156l2-187l1-104l2 135l2-111l1 25h2l2 26l2-26l1-25l2 25l2-49l1-22l2 46l2 144l2-190l1 157l2-31l2-104l1 205l2-205l2 291l2-187l1-29l2-137l2 197l1 33l2-144l2 51l2 93l1-230l2 464l2-197l1-156l2 86l2-111l2 80l1-80l2 25l2 26l1 29l2-55l2 156l2-156h1l2-49l2 135l1 70l2-101l2 31l2-157l1 157h2l2 111l1 97l2-239l2-80l1 181l2-181l2-24l2 24l1 378l2-327l2-51l1 144l2-64l2-147l2 211l1-64h2l2 31l1 267l2-156l2-78l2-119l1 197l2-142l2 31l1 33l2-33l2 156l2-313l1 190l2 37l2-156l1 86h2l2 70l2-130l1-75l2 75l2 29h1l2 64l2 37l2 41l1-142l2 142l2-111h1l2 208l2-175l2-93l1 60h2l2-60l1 327l2-327l2 60l2 33l1-33h2l2-135l1 75l2 60l2-197l2 405l1-208l2-135l2 75l1 130l2 197l2-197l2-37l1 305l2-182l2-86h1l2-205l2 343l2-386l1 211l2-64l2-166l1 353l2 52l2-268l2 216l1 268l2-268l2-86h1l2 41l2-41l2 86l1-45l2-41l2-101l1-126l2 313l2-242l2 197l1-78l2-168l2 49l1 156h2l2 86h2l1-45l2 227l2-305l1-33l2 33l2 123l1-353l2 535l2-71l2-197l1-37l2 123l2 379l1-197l2-227h2l2 313l1-424h2l2 111l1 313l2-354l2 197l2-156l1 97l2-138l2 41l1 45l2-86l2 41l2-111l1 111l2 156l2-156l1 97l2-175l2 305h2l1-369l2 101l2-70l1 111l2-111l2 535l2-646l1 80l2 31l2 156l1 111l2-197l2-156l2 197l1 97l2-138l2-37l1 234l2-156l2-111l2 208h1l2 130l2-182l1-86l2 197l2-59l2-52l1 111l2-156l2 45l1 111l2-59l2-175l2 175l1 59l2-111l2 111l1-197l2 268l2-227l2 45l1-86l2 86l2-45l1-78h2l2 78h2l1 156l2-197l2 138l1 751l2-959l2 338l2-227l1 45h2l2-45l1-78l2 234l2-59l2-138l1 86l2-156l2 70l1 138l2-175l2 926l2-535l1-424l2 535h2l1-327l2-52l2 268h2l1-157l2-59l2-97l1 97l2 130l2-227l1 45h2l2 52l2 130l1-182l2 182l2-71l1-111l2 111l2-111l2 111l1-59l2-97l2 227h1l2-130l2-97l2-111l1 338l2-268l2 197l1 71l2-71l2-59l2-97l1 313h2l2-313l1-41l2 197l2-197l2 41l1 45l2 111l2-111l1-45l2 227l2 197l2-197l1-71l2-59l2-175l1 175l2 130l2 86l2-157l1 71l2-268l2 86l1 268l2-86h2l2-71l1 268l2-379l2 52l1 327l2 156l2-621l2 197l1 71l2 197l2 156l1-424h2l2 424l2-267l1-216l2 130l2-338l1 208l2 483l2-483l2 216l1-86l2-268l2 197l1-234l2 502l2-111l2 111h1l2-327l2 327l1 156l2-267l2-268l2 268h1l2-157h2l1 71h2l2-227l2 45l1 803l2-268l2-621l1 621l2-483l2 130l2 86l1 111l2-465l2 465l1-327l2 327l2-327h3l2 130l2-71l1-111l1 803M4357 8990l1-424l1-379l2 268l2-86l2-182l1 268l2-86l2-71l1 268l2-197l2 197l2-379l1 111l2 692l2-621l1 197l2-268l2 157h3l2 267l2-535l1 379l2-268l2-59l2 751l1-535l2 267l2-353l1-71l2 157l2 267l2-267l1-157l2 157l2 267h1l2-580h2l2 45l1 535h2l2-156h1l2-327l2 327l2-327l1 483l2-267l2 267l1-156l2 156l2-267l2-268h1l2 268l2 267l1-483l2 130l2 197h2l1-111l2 111l2 156l1-156l2-197l2-130l2 216l1-216l2 751l2-268l1-267h2l2-86l2 86l1-157h2l2-111l1 182h2l2 86l2 111l1 156h2l2-424l1 692l2-424l2 424l2-268l1-156l2-197l2 353l1-353l2-71l2-111l2 379l1-424l2 313l2-216h1l2 130l2 86l2-86l1 197l2-197l2-71l1 157h2l2 535l1-621h2l2 197l2-268l1 424h2l2-156l1-197l2 621l2-692h2l1-59l2 216l2-86l1-130l2 483l2-267l2 267l1-267l2 535l2-692l1 268l2 156l2-483l2 59h1l2 71l2 197l1-197l2 86l2 267l2-424l1 424l2-156l2 156l1-424l2 157l2 111l2 156h1l2-156h2l1-111h2l2-86l2-130l1 751l2-621h2l1 197h2l2-111l1 535M4634 8990l1-535l2-157l2 268l1-379l2 535l2-156h2l1-268l2 268l2 156l1-156l2-111l2 267l2 268h1l2-692l2 71l1 621l2-692l2 157h5l2 267l1-156l2-197l2 197l2-268l1 157l2 267l2-156l1-111l2 111l2 156l2-267l1 111l2 156l2-353l1 353l2-156l2-111l2 111l1-111l2 111l2-197l1 621l2-268l2-353l2 353l1-353l2 353l2-424l1 268l2 156l2-267l1 111l2 424l2-692h3l2 268l2-327l1 216l2-268l2 268h2l1 267l2-424l2-59l1-52l2 268l2 535l2-424l1-327l2-97l2 424l1 156l2-424l2 268l2-111l1 111l2 156l2 268l1-692l2 268l2-111l2 267l1-156l2-268l1 692M4789 8990v-692l2 424l2-156l2-197l1 353h2l2-267l1 535M4802 8990l1-692l2 71l2 353l1-156l2 156l2-156l1 156l2-267l2-157l2 692l1-535h2l2 111l1 424l2-535h2l2 267l1-156l2 156l2 268l1-268l2 268l2-424l2 424l1-424l2-197l2-130l1 216l2-86l2 353h3l2-580l2 848l1-535l2-86h2l2 353v268M4869 8990l1-535l2-157l1 692l2-535l2-157l2 268l1 156l2-156l2-111l1 111h2l2-197h2l1 621l2-535h2l1 267l2-156l2 424l2-535l1 535l2-621l2 353h1l1 268M4912 8990l1-621l2 86l1-86l2 353l2-353l1-130l1 751M4924 8990h1l1-424l2-268l2 71l2-182l1 379h2l2 156h1l2 268l2-535l2-86l1 621l2-621l2 86l1-86l2 353l2-267l2 535l1-621l2 353l2-156l1 156l2-424l2 424l2-353l1 621l2-535l2-86h1l2 353l2-156l2-111l1 267l2-156l2 424l1-424h2l2 156l2-424l1 692h2l2-535l1 535l2-424l2-268l2 424l1-353l2 197l2 156l1-267l2 111l2 156l2-156h1l2 156l2 268l1-424l2-268l2 268l2 156l1-267h4l1 535l2-424l2 156l2 268l1-268l2-267l1 535M5046 8990v-692l2-111l2 379h2l1-268l2 424l2-156l1-268l2 692h2l2-621h1l2 197l2 424l1-621l2 86l1 535M5075 8990l1-692v692M5078 8990l1-535h2l1 111h6l1 424l2-268h2l1-156l2 156l2-156l2-111l1 111l2 156l2 268h1M5107 8990l1-424l1 424M5111 8990h0l2-424l2-197l2 353l1-353l1 621M5121 8990l1-268l1 268M5124 8990l1-424h4l1 156h2l2-267l1-157l2 268l2-111l2-86l1 86h2l2 111l1-197l2 353l1 268M5152 8990l1-268l1-353l2 86l2 535h1M5160 8990l1-424l2-111h2l1 267l2 268l2-424l1 424h2l2-268l2 268l1-268l2-353l2 353l1-156h2l2 156h2l1-156l2 424l2-535l1 535l2-621l2 197h2l1 424h2l2-535l1 535l2-268l2-156h2v424M5215 8990l1-268l1 268M5219 8990v-424l2 156l2 268l2-424v424M5227 8990l1-268l2-267h1l2 111h2l2 156h1l2 268h2l1-535l2 535h2l2-268h3l1 268M5255 8990v-424l2 424l2-268l2-156h1l2-111l2 111h1l1 424M5270 8990h1l2-268l1-156l2-197l2 353l1-156h4l2-197l1 621h4l1-268l1 268M5294 8990l1-268h2v268M5299 8990l1-424l2-197l1 353h2l2-156l1 424l2-535l2-86l2 353l1-267l2 535h3l2-268l2 268l2-424l1-268l2 692l2-424l1 424M5333 8990l1-751l2 483l2-267l1 111l2-268l2 268h1l2 424l2-268l2-353v621"/>
<path stroke="#00ff00" d="M838 8990H908V8722H921V8990M963 8990V8567H981M976 8990l1-848l2 227l1-227l2 313l2-391l2 123l1-216l2 29l2 31l1-234l2 56l2-201l2-56l1-30l2 86l2-236h1l2-19l2-63l2-31l1-98l2-88l2-66l1-32l2-65l2-67l2-52l1-93l2-49l2-57l1-89l2-52l2-39l2-70l1-78l2-2l2-95l1-31l2-41l2-54l2-31l1-57l2-10l2-49l1-30l2-24l2-35l2-4l1-40l2-29l2-33l1-12l2-31l2-11l2-20l1-25l2-4l2-22l1-11l2-9l2-18l2-9l1-5l2-19l2-10l1-6l2-12l2-2l2-12l1-7l2-16l2-7l1-11l2-9l2 5l2-12l1-3l2 2l2-7l1 3l2-7l2 4h2l1 11l2-12l2 5h1l2 10l2-7l2 3h1l2 8l2 10l1 6l2 5l2 6l2 9l1 7l2 6l2 6l1 12l2 3l2 9l1 5l2 14l2-1l2 7l1 17l2 13l2-11l1 17l2 6l2 8l2 8h1l2 17l2 2l1 12l2-6l2 15l2 13l1-1l2 10l2 12l1-1l2 2l2 6h2l1 2l2 7l2 25l1-4l2 10l2 7l2 13h1l2-4l2 10l1 7l2-5l2 11l2 6l1-4l2 21l2 8l1 3l2 3l2 6l2 8l1 13l2-1l2 6l1 8l2 6l2 2l2 9l1-1l2 17l2 5l1-2l2 2l2 9l2 19l1 5l2-3l2 8l1 7l2-9l2 26l2-2l1 5l2 2l2 16l1 4l2 5l2 7l2 3h1l2 1l2 8l1 14l2 9l2-1l2 12l1-1l2-10l2 20l1 15l2-11l2-10l2 20l1 17l2 6l2-11l1 23l2-1l2-3l2 9l1-6l2 22l2 9l1-17l2 25l2 16l2-18h1l2 24l2 3l1 8l2 6h2l2-3l1 4l2 7l2 2l1 28l2-37l2 40h1l2-5l2 16l2-10l1 20h2l2 18l1-11l2 13l2-5l2-5l1 4l2 47l2-27l1 5l2-3l2 29l2 26l1-21l2-28l2 26l1 14l2-19l2 31l2 22l1-16l2-16l2 26l1-5l2 13l2 5l2-19l1 44l2-25l2 42l1-33l2 30l2 12l2-45l1 28l2 2l2 24l1-26l2 47l2 1l2 2l1-4l2-14l2 24l1-23l2 4l2 10l2 17l1 16l2-12l2 9l1 5l2-4h2l2-3l1 16l2-10l2 5l1 24l2 20l2 9l2 5l1-37h2l2 24l1 13l2-16l2 20l2-35l1 66l2-29l2 3l1-10l2-5l2 32l2 7l1 3l2 8l2-19l1 23l2 3l2 35l2-60l1 39l2-14l2 31l1-41l2 35l2-15l2 4l1-10l2-9l2 48l1-1l2-6l2-22l2 37l1 1l2-35l2 42l1-10l2 29l2 30l1-55l2-10l2 36l2-5l1-59l2 84l2-13l1 6l2 12l2-16l2 27l1-37l2 28l2-28l1 22l2 25l2-61l2 54l1 26l2-47l2 23l1-8l2 34l2-14l2-20l1 42l2-18l2 22l1-44l2 27l2-30l2 33l1-21l2 31l2 5l1-15l2 39l2-52l2 10l1-16l2 13l2 29l1-4l2-25l2 46l2-19l1 30l2-9l2-35l1-6l2 58l2-6l2-13l1 11l2-2l2-30l1-13l2 31l2 33l2-2l1-21l2 31l2-15l1-3l2-11l2 44l2-29l1-2l2 51l2-20l1 22l2-49l2 6l2 15l1 28l2-18l2 22h1l2-12l2-13l2 39l1 2l2-23l2-21l1 42l2-30l2 10l2 55l1-7l2-17l2-15l1 44l2 9l2-44l2 11l1-22l2 27l2 37l1 23l2 5l2-30l2-11l1 22l2-27l2 44l1-117l2 71l2 29l2-22l1 24l2 17l2-66l1 91l2-42l2 31l1 11l2 10l2-42l2 2l1 13l2-31l2 58l1 23l2-37l2 8l2 15l1 28l2 14l2-61l1 35l2-11l2 18l2-5l1-11l2 25l2 3l1-17l2-13l2 16l2 7l1 7l2-44l2 59l1-13l2-5l2 98l2-70l1-37l2 39l2-17l1 28l2 24l2 24l2-98l1 44l2-2l2 41l1-61l2 52l2-40l2 49l1 30l2 36l2 22l1-25l2-3l2-69l2 9l1-17l2 20l2 9l1 21l2-27l2-50l2 44l1 24l2-15l2 86l1 8l2-53l2-23l2-24l1 63l2 40l2-50l1 32l2-67l2 12l2-21l1 31l2-16l2 64l1 60l2-95l2-23l2 101l1-54l2-27l2-29l1 26l2 6l2 108l2-13l1-114l2 85l2-59h1l2 43l2-3l2-19l1 11l2 11l2-26l1 71l2-33l2-78l2 30l1 44h4l1 33l2 17l2-46l1 37l2-29l2-114l2 102l1 20h2l2 30l1-17l2 154l2-150h3l2-9l2 74l1 55l2-103l2-46l2 16l1-16l2 51l2-5l1-4l2-9l2 27l2-4l1-52l2 8l2 30l1 68l2-77l2 32l2-27l1 36l2-74l2 94l1-102l2 107l2-61l2 160l1-178l2 59l2-9l1-45l2 64l2 37l2-37l1 71l2-61l2-53l1 121l2-88l2 70l2-180l1 141l2-16l2-52l1-9l2 46l2 47l2-6l1 17l2 89l2-147l1-9l2 90l2-23l2-53l1-19l2 45l2 5l1 90l2-106l2 27l2 23l1 49l2-61l2 55l1-43h2l2-45l2 168l1-198l2 131l2-121l1 71l2-6l2-34l2 118l1-90l2 17l2 88l1-138l2 170l2-39l2-49l1 13l2-45l2 81l1-68l2-84l2 71l2 128l1-47l2-74l2 66h1l2-14l2-99l2 59l1 77l2-83l2 53l1-95l2 36l2 81l1-56l2 27l2 22l2 31l1-16l2-71l2 34l1 69l2 35l2-125l2 7l1-13l2-13l2 183l1-195l2 31l2 125l2-111l1 36l2 24h2l1-53l2-59l2 104l2-59l1 36l2 225l2-178l1 35l2-97l2 157l2-41l1-46l2 27l2 19l1-199l2 153l2-24l2-16l1 58l2 28l2-62l1 8l2 54l2-137l2 289l1-171l2-27l2-32l1 68l2 40l2-76l2-16l1 34l2 48l2-143l1 61l2 34l2 18l2 30l1-20l2-116l2 202l1-123l2-9h2l2 56l1-20l2-76l2 184l1-12l2-66l2-66l2 109l1-141l2 78l2-28l1-9l2 47h2l2 31l1 10l2-79h2l1-50l2 32l2 97l2-31l1-20l2 30l2-58l1 91l2-91l2-34l2 25l1 67l2 68l2-88l1 41l2-51h2l2-70l1-53l2 275l2-171l1-82l2 131l2 94l1-134l2 148l2-27l2-37l1 140l2-48l2-80l1-35l2 60l2-48l2-12l1-79l2 58l2 108l1 76l2-173l2 83l2-178l1 105l2 35h2l1-35l2-61l2 108l2-47l1 12l2 75l2-52l1 25l2 41l2 62l2-276l1 62l2 51l2 12l1 11l2 37l2 70l2-83l1 40l2-118l2 104l1-104l2 78l2 40l2-108l1 108l2-128l2 142l1-122l2 56l2-66l2 132l1-111l2 173l2-116h1l2 99l2-86l2-60l1 217l2-194l2-23l1 23h2l2 78l2-122l1 56l2 66l2 45l1-45l2 178l2-133l2-156l1 97l2-40l2 99l1 17l2-116l2 13l2 41l1-101l2 146l2-59l1 28l2 48l2 54l2-157l1 157l2-217l2-21l1 56l2 201l2-176l2 70l1 50h2l2 37l1-144l2-73l2-10l2 140l1 68l2-83l2-80l1 95l2 16l2-31l2-103l1 134l2 52l2 156l1-307l2 133l2-93l1-52l2 38l2 14l2 28l1-14l2-78l2 78l1 62l2 35l2-18l2-145l1 128l2-90l2 57l1 68l2-138l2 176l2-38l1-52l2-73l2 107l1 77h2l2-127l2 87l1-102l2 31l2-111l1 201l2 67l2-280l2 140l1-48l2 164l2-62l1-87l2 16l2 71l2-87l1 16l2 34l2-34l1 34l2 37l2-130l2 192l1-149l2-15l2 83l1 38l2-73l2 73l2-19l1-205l2 103l2 48l1 220l2-237l2 34l2-79l1 116l2-54l2-33l1 87l2-157h2l2 176l1-73l2 17l2 37l1-102l2-42l2 42l2-14l1 79l2 18l2-52l1-111l2 111l2 90l2 67l1-105l2 19l2-87l1 16l2 111l2-59l2 19l1 86l2-86l2 86l1 25l2-281l2-12l2 145l1 37l2 166l2-185l1 19l2 62l2 104l2-147l1-106l2-15l2 83l1-35l2 17h2l1-201l2 108l2 93l2 37l1 137l2-208l2-16l1 127l2-142l2 213h2l1-130l2 81h2l1 49l2-165h2l2 35l1 249l2-284l2 73l1-56l2 123l2-46h3l2-59l2 38l1 43l2 135l2-216l2-83l1 15l2 395l2-246l1-116l2-33l2 440h2l1-291l2 24l2-188l1 65l2-79l2 156l2-59l1 38l2 67l2-105l1 38l2 21l2 46l2-24l1-116l2 17l2 99l1-81l2-52l2 90l2 21l1-94l2 165l2-111l1 40l2 71l2-49l2-81l1 59l2 46h2l1 111l2-60l2-97l2 22l1 168l2 123l2-242l1-71l2 71l2-25l2-105l1 59l2 22l2 135l1-31l2-185h2l2 130l1 26l2-174l2 123l1 222l2-395l2 198l2-49l1 104l2-29h2l1 93l2-230l2 230l2-249l1 81l2 49l2-25l1-24l2-43l2-56l2 304l1-101l2-126l2-111l1 90l2 21l2-111l1 71l2 19l2 211l2-64l1-80l2-24l2 49l1-71l2 365l2 130l2-338l1-111l2 80l2-29l1 29l2-104l2 49l2 26l1 171l2-222l2 111l1-111h2l2 144l2-93l1 171l2-41l2-205l1 168l2-33l2-135l2 135l1-60l2-75h2l1 75l2-97l2 157l2-31l1-126l2 157l2-157l1 97l2-118l2 92h2l1 86l2-31l2 64l1-93l2-51l2 181l2-101l1 142l2-171l2 268l1-343l2 75l2 93l2-249l1 81l2 104l2-29l1-51l2 222l2-142l2 142l1-142l2 101l2-205l1-116l2 284l2 78l2-171l1-75l2 343l2-319h1l2-24l2 246l2-78h1l2 391l2-391l1-284l2 518l2-353l2-49l1 24l2-46l2 227l1-101l2 101l2-101l2-29l1 171l2 227l2-268l1 138l2-294l2 26l2 130l1 41l2-268l2 190l1 78l2-171l2 171l1 227l2-369l2 298l2-378l1 222l2-197l2 26l1 93h2l2 78l2-197l1 242l2-45l2-41l1 268l2-130h2l2 130l1-182l2-156l2 70l1-101l2 142l2 97l2-208l1 33l2 391l2-559l1 205l2 41l2-142l2 722l1-658h2l2-33l1-86l2 26l2 60l2 208l1 130l2-227l2 97h1l2-52l2 111l2-156l1 97h2l2-239l1 187l2-86l2 138l2-97l1 156l2-111l2-123l1 234l2-298l2 187l2-123l1 78h2l2 97h1l2-97l2-142l2 142h1l2-78l2-64l1 142l2 97l2-52l2-267l1 267l2-45l2 156l1-59l2-97l2-111l2 208l1 59l2-111l2-123h1l2-33l2 338l2-130l1-239l2 566l2-379l1-86l2 268l2 86l2-313l1 45l2-123l2 175h1l2-208l2-60l2 216h1l2-187l2 31l1 156l2 52h2l1-52l2 182l2-71l2-353l1 294l2-208l2 70l1 197l2-267l2 111l2 156l1-111h5l2-45l2-78l2 305l1-182l2 111l2 71l1-71l2-298l2 369h2l1-130l2-52l2 268l1-313l2 313l2-216l2 130l1 353l2-621h2l1 138l2 59l2 71l2-182l1 182l2-268l2-130l1 130l2 197l2-59l2 59l1-197h2l2 354l1-157l2-111l2-216l2 130l1 465l2-327l2-208l1 70l2 138l2 216l2-86l1-182l2 52h2l1 59l2-234l2 305l2-130l1 130l2-71l2 71l1-71h2l2-111l2 111h1l2 157l2-157l1-111l2-45l2 97h2l1 59l2 157l2-313l1 45l2-123l2 391l2-313l1 97l2-175l2 175l1 59l2-59l2-97l2 156l1-111l2 535l2-267l1-268l2 379l2-111l2 111l1-111l2-216l2 130l1-130l2 327l2-379l2 182l1-338l2 267h2l1 157l2-157h2l1 268l2-465l2 138l2 327l1-268l2 157l2-216l1 216l2-86l2 197l2-424l1 313h2l2-86l1-268l2 197h2l2 71l1-227l2 45l2-156l1 156l2 111l2 71l2-71l1 71l2 86l2-216l1 59h2l2 268l2-327l1 130l2-227l2 313h1l2-86l2 353l2-424v692M3513 8990l1-535l2 111l1 424l2-751l2-52l2 52l1 327l2-197l2-71l1-59l2 216h2l2-157l1 157l2 111l2-111l1 111l2-197l2 197l2 424l1-692l2-353l2 353l1 692l2-268l2-483l2 327l1-111l2-86l2 197l1-197l2-227l2 313h2l1 267l2-535l2 52l1-52l2 111l2 71l2-369l1 455l2-86l2 197l1-327l2 327l2-327l2 130l1 86l2 111l2-197l1-227l2 424l2-424l2 424l1 156l2-156l2-379l1 268l2-268l2 268l2-216l1 130h2l2-227l1 156l2 157l2-268l1 52l1 751M3633 8990l1-535l2-216l1 59l2 424l2-580l1 313l2 111l2 424l2-621h1l2-182l2 379l1-268l2 424l2-267l2-86l1 197l2-197l2-182l1 535l2-267l2-86l2 86h1l2-313l2 97h1l2 327l2 156l2 268l1-535l2-268l2 182h1l2-71l2 268l2-111l1-86l2-71l2 157h3l1 535M3707 8990l1-621h1l2 353l2-353l1 353l2-156l2-268l2 71l1-182l2 535l2-267l1-216l2 130l2 86l2-86l1 86l2-86h3l2 197l2-197l2 197l1 156h2l2 268l1-692l2 268l2-379l2 111l1 424h2l2-424l1 268h2l2-327l2 216l1-268l2 535l2 268h1l2-535l2 111l2 424l1-535h4l1 111l2-111l2-86l2 86l1-216l2 59l2 71l1 86l2 267l2-156l2 424l1-621l2 86l2-157l1 424l2-353l2-71l2 268l1-327l2 327l2-268l1 692l2-692l2 268l1 156l2 268l2-424l2 156h1l2-267l2 111l1 156l2-156h2l2-197h1l2 197l2 156l1-353h2l2 86h2l1 111l2 156l2-353l1 353l2 268l2-268l2-267l1-86l2 86l2 111l1 156l2-353l2 621l2-424l1 156l2-483l2 130l1-71l2 692l2-621l2 86h1l2-86l2 197h1l2 156l2-267l2-216l1 59l2 424l1 268M3911 8990v-535l2-268l2 379l2 156l1-267h2l2-86l1-130h2l2 483l2-156l1-111l1 535M3933 8990l1-621l1 197l2 156l2-424l2 424h1l2-156l2-111l1 267l2-267l2 535h2l1-535l2 535l2-621h1l2 197l2-268l2 424l1-353h2l2 86h1l2 535h1M3976 8990l1-751l1 483l2-353l2-71l1 71l2 621h2l2-268l1 268l2-268l2-156h1l2-268l2 424l2-156l1-327l2 216l2-157l1 71l1 621M4010 8990l1-268l1 268l2-268l1 268M4017 8990l1-535h1l2 535l2-268l1-156l2-197l2 86l2 267v268M4032 8990l1-268l2-267l1 267l2-156l2-197l2 621l1-424l2-111l2 267l1-267h2l2 111l2-424l1 313l2 535l2-535l1 535l2-535l2 111h5l2 156l1 268l2-751l2 751l2-268h1l2-353l2 621l1-535l2 267l2 268l2-692l1 692l2-268l2 268l1-424h2l2-111l2 535l1-268l1 268M4106 8990h2l2-751l2 59h2l1 424l2-156l2-197l1 197l2 156h2l2-156l1 424h2l2-424h1l2-268l2 268l2 424h0M4140 8990l1-535l2 535h1M4145 8990l1-268l2 268h2l1-268h2l2-535l1 535l2-267l2 267l2-156l1-268h2l2 71l1 197l2 424h2l2-268l1-156l2 156l2-156l1 424h2l2-268l2 268l1-424l2 424l2-268l1-156l2 156l2-353l1 621M4198 8990h5l1-268h2l2-267l1 535l2-268h2l2-353l1 621h3M4221 8990v-424l2-327l2 751l2-424h1l2-197l2 621h1M4234 8990l1-751l2 483l2 268l1-535l2 267l2-156l1-111l2 267l2-267l2 267l1-267h2l2 535h1l2-268h2l2 268l1-268l2-267l2 535l1-692l2 268l2 156l2 268l1-692l2 424l2 268l1-268h2l2 268l2-268h1l1 268M4291 8990h1l1-424h2l2 156l2-156l1-111l2-86l2 197l1-268l2 268l2 156l2-267l1 535h2l2-621l1 353l2-353h2l2 621l1-268l2 268l2-268h1l2 268l2-621l2 197l1-111l2 111l2 156l1 268M4342 8990h1l2-268l2-267l1 267h2l2 268l1-535l2 535l2-424l1 424M4359 8990l1-268l2-353l2 353h1l2-267l2 267l2 268h0M4373 8990h1l2-268l1 268M4378 8990l1-268l2-156l2 424l1-424l2-197l2 353h1l2-267l2 535l1-424l1 424M4397 8990h1l2-424h1l2 156l2-353l1 621l2-424l2-111l2 535l1-424l2 156l1 268M4418 8990v-268l2-267l2 267h2l1-267h4l1-86l2 621h2l2-535l1 111l2 156l2-156l1 156l2-353l2 197l2-197l1 621l2-424l1 424M4454 8990v-268l2-267l2 535l2-535h1l2 535h2l1-535l1 535M4469 8990l1-424l2 156h1l2 268l2-268l1-156h2l2 156h2l1-267l2-86h2l1 197l2 156l2 268l2-535l1 267l2-156l2 424l1-535l2 535h3M4508 8990l1-621l2 621l2-424l1 156h2l2-353l2 621l1-424h5l2 156l2-156h3l2 156l2 268h3l2-268l2-156l1 156h2l2 268h3l2-424l2-327l1 483l2-267l2-86l1 86h2l2 111l2 424h0M4570 8990h1l2-268h1l1 268M4577 8990h2M4580 8990h1l2-424h2l1 156l2-156l1 424M4591 8990v-268l2-156l2 156l2 268h1l2-424l2 156h1l2 268l2-268h2l1-267l2 111l1 424M4615 8990v-424l2 424l2-424l2 424l1-424l2 156l2-156l1 424l2-268h4v268M4637 8990h2M4640 8990h5l1-268l2-267l2 267l1 268M4652 8990h2M4656 8990l1-424l1 156l1 268M4661 8990l1-535h1l2-86l2 621h2l1-268l2 268l2-268h5l2-267l1 267l2-156l2 424l1-621l2 621h1M4692 8990l1-268v268M4695 8990l1-268l2 268l1-621l2 621h3M4705 8990l1-535h2l1 535M4711 8990h0l2-268l2-267l2 267l1 268h1M4721 8990l1-268h1l2 268h3M4729 8990h5l1-268l2-353l2 621h2l1-268l2-156l2 424l1-268h2l2-353l2 86l1 535l2-268l2-156h1l2 424h2l2-268h1l2 268h3M4772 8990h2M4776 8990v-424l2 424h1M4781 8990l1-424v424M4786 8990h2l2-268l2 268l2-424l1-111l2 535h2l1-268h2l2-267l2 535h0M4808 8990l1-268l2 268l1-268l2 268h3M4820 8990l1-424h2l1 424l2-268l1 268M4829 8990l1-268h1l2-156l2 424l1-268l2-353l2 197l2 424h4M4848 8990v-692l1 692M4851 8990l1-535h2l1 267l2 268h3l2-535l2 535l2-268l1-156l2-111l2 111l1 156l1 268M4875 8990l1-268h2l1-156h2l2 156l1 268l2-424l2 424h2l1-268l2-156l2 424l1-268l2 268h1M4902 8990l1-424l2 156l1 268M4909 8990l1-268l2 268l2-424h3l2 424l1-268l2-156l1 424M4925 8990l1-268l1 268l2-268l1 268M4932 8990v-424l2 424l2-424l2 156v268M4940 8990l1-424h2l1 156l1 268M4947 8990l1-268l2-156l1 156l1 268M4954 8990l1-268h1l2 268l2-751l1 751M4964 8990l1-268l2 268l1-535l1 535M4971 8990l1-424l1 156l2 268h1M4978 8990h1l1-424l2 424h1M4985 8990v-268l2 268h2l2-424v424M4993 8990l1-268l2 268l1-268l2 268h2l2-268l1 268l2-621l1 621M5009 8990v-535l2 267l2-267h2l1 267l1 268M5019 8990h2M5022 8990l1-268l1 268M5026 8990l1-535v535M5029 8990h4M5034 8990l1-268h2l2 268h1l2-424h2l1 424h1M5048 8990h13l2-424l1 424h4l1-268h4l1 268M5075 8990l1-424l2 156l1 268M5081 8990h2l2-268l2 268h0M5089 8990l1-424l2 424h5l2-268h3l1 268M5105 8990v-692l2 692h2l2-535l1 267l2-267l2 111l1 424l2-268l2 268l2-268h1l2 268h2l1-268l1 268M5132 8990l1-424l2-111l1 535h2l2-268h3l2 268l2-268l1 268l2-621l2 86l1 535M5154 8990l1-268l2 268h1M5159 8990l1-268l2-156l2-111l1 535l2-268l2 268h5l2-268l1 268h3M5182 8990h2l2-535l2 535l1-424l2 424l2-268l1-156l2 156h2l2-267l1 535l2-424h2l1 424M5207 8990h1l2-268h2v268M5214 8990l1-424l2-197l1 621M5219 8990h1l2-268l2 268l1-268l2 268h2l1-535h2l2 267l2 268h1l2-268h2l1 268M5243 8990l1-268h5l1 268M5252 8990h2M5255 8990l1-268l2 268h1M5260 8990l1-424l2 156h7l2-353l1 353l2-267l2 535l1-424l2 424h1M5284 8990l1-268l2 268l2-268h5l2 268h1l2-424l2 156l1 268M5303 8990h2M5308 8990h3l2-268h3l2-156l2 424l1-268h2l2-156l1 156l2 268l2-268l1 268M5332 8990h1l2-424l2-379l1 379l1 424M5343 8990l1-268v268M5346 8990h2"/>
</g>
<path d="M83.8 542.8 V907.3 H535.6" fill="none" stroke="#000" stroke-width="1.3"/>
<path d="M83.8 899H76.8M83.8 872.2H80.2M83.8 856.6H80.2M83.8 845.5H80.2M83.8 836.9H80.2M83.8 829.8H80.2M83.8 823.9H80.2M83.8 818.7H80.2M83.8 814.2H80.2M83.8 810.1H76.8M83.8 783.4H80.2M83.8 767.7H80.2M83.8 756.6H80.2M83.8 748H80.2M83.8 740.9H80.2M83.8 735H80.2M83.8 729.8H80.2M83.8 725.3H80.2M83.8 721.2H76.8M83.8 694.5H80.2M83.8 678.8H80.2M83.8 667.7H80.2M83.8 659.1H80.2M83.8 652.1H80.2M83.8 646.1H80.2M83.8 640.9H80.2M83.8 636.4H80.2M83.8 632.3H76.8M83.8 605.6H80.2M83.8 589.9H80.2M83.8 578.8H80.2M83.8 570.2H80.2M83.8 563.2H80.2M83.8 557.2H80.2M83.8 552.1H80.2M83.8 547.5H80.2M83.8 543.4H76.8M83.8 903.1H80.2M83.8 907.6H80.2M124.7 907.3V914.2M227.3 907.3V914.2M329.9 907.3V914.2M432.4 907.3V914.2M535 907.3V914.2M176 907.3V910.9M278.6 907.3V910.9M381.1 907.3V910.9M483.7 907.3V910.9" fill="none" stroke="#000" stroke-width="1.2"/>
<g font-family="'Liberation Serif', serif" font-weight="bold" font-size="16" fill="#000">
<text x="71.8" y="904.2" text-anchor="end">1</text>
<text x="71.8" y="815.3" text-anchor="end">10</text>
<text x="71.8" y="726.4" text-anchor="end">100</text>
<text x="71.8" y="637.5" text-anchor="end">1000</text>
<text x="71.8" y="548.6" text-anchor="end">10000</text>
<text x="125" y="932" text-anchor="middle">10</text>
<text x="227.6" y="932" text-anchor="middle">20</text>
<text x="330.2" y="932" text-anchor="middle">30</text>
<text x="432.7" y="932" text-anchor="middle">40</text>
<text x="535.3" y="932" text-anchor="middle">50</text>
</g>
<g font-family="'Liberation Sans', sans-serif" font-weight="bold" fill="#000">
<text x="311.1" y="443" font-size="18.55" text-anchor="middle">Time (ns)</text>
<text transform="translate(25.8 207.4) rotate(-90)" font-size="18.85" text-anchor="middle">Photon counts</text>
<text x="310" y="965.3" font-size="22.6" text-anchor="middle">Time (ns)</text>
<text transform="translate(24.8 725) rotate(-90)" font-size="22.6" text-anchor="middle">Photon counts</text>
<text x="467.1" y="20.3" font-size="17.8" text-anchor="middle">A</text>
<text x="509.8" y="548.4" font-size="14.6" text-anchor="middle" textLength="9.2" lengthAdjust="spacingAndGlyphs">B</text>
</g>
</svg>
</body></html>
